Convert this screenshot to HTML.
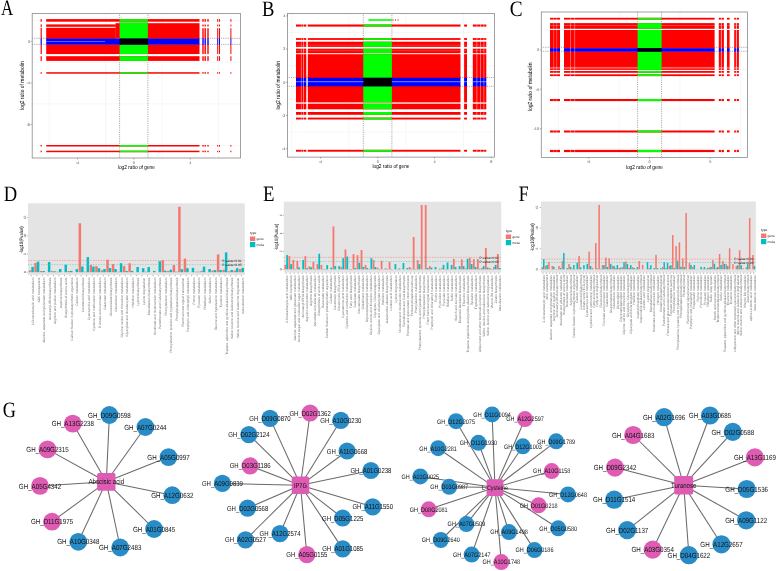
<!DOCTYPE html>
<html><head><meta charset="utf-8"><title>Figure</title>
<style>html,body{margin:0;padding:0;background:#fff;}svg{display:block;}</style></head>
<body><svg width="777" height="571" viewBox="0 0 777 571" text-rendering="geometricPrecision">
<rect x="0" y="0" width="777" height="571" fill="#fff"/>
<line x1="49.3" y1="13.5" x2="49.3" y2="158" stroke="#efefef" stroke-width="0.5"/>
<line x1="105.7" y1="13.5" x2="105.7" y2="158" stroke="#efefef" stroke-width="0.5"/>
<line x1="162.1" y1="13.5" x2="162.1" y2="158" stroke="#efefef" stroke-width="0.5"/>
<line x1="218.5" y1="13.5" x2="218.5" y2="158" stroke="#efefef" stroke-width="0.5"/>
<line x1="32.2" y1="20.6" x2="240.5" y2="20.6" stroke="#efefef" stroke-width="0.5"/>
<line x1="32.2" y1="62.2" x2="240.5" y2="62.2" stroke="#efefef" stroke-width="0.5"/>
<line x1="32.2" y1="103.8" x2="240.5" y2="103.8" stroke="#efefef" stroke-width="0.5"/>
<line x1="32.2" y1="145.4" x2="240.5" y2="145.4" stroke="#efefef" stroke-width="0.5"/>
<line x1="119.6" y1="13.5" x2="119.6" y2="158" stroke="#333" stroke-width="0.55" stroke-dasharray="0.7,1.1"/>
<line x1="147.9" y1="13.5" x2="147.9" y2="158" stroke="#333" stroke-width="0.55" stroke-dasharray="0.7,1.1"/>
<line x1="32.2" y1="38.3" x2="240.5" y2="38.3" stroke="#333" stroke-width="0.55" stroke-dasharray="0.7,1.1"/>
<line x1="32.2" y1="44.4" x2="240.5" y2="44.4" stroke="#333" stroke-width="0.55" stroke-dasharray="0.7,1.1"/>
<rect x="40.6" y="19.1" width="1.2" height="2.6" fill="#ff0000"/>
<rect x="46.2" y="19.1" width="153.3" height="2.6" fill="#ff0000"/>
<rect x="119.6" y="19.1" width="28.3" height="2.6" fill="#00ff00"/>
<rect x="202.3" y="19.1" width="1.4" height="2.6" fill="#ff0000"/>
<rect x="204.5" y="19.1" width="1.4" height="2.6" fill="#ff0000"/>
<rect x="207.3" y="19.1" width="1.4" height="2.6" fill="#ff0000"/>
<rect x="217.2" y="19.1" width="1" height="2.6" fill="#ff0000"/>
<rect x="219" y="19.1" width="1" height="2.6" fill="#ff0000"/>
<rect x="230.4" y="19.1" width="1" height="2.6" fill="#ff0000"/>
<rect x="119.6" y="22.6" width="28.3" height="16.3" fill="#ff0000"/>
<rect x="119.6" y="22.6" width="28.3" height="16.3" fill="#00ff00"/>
<rect x="40.6" y="24.4" width="1.2" height="2.4" fill="#ff0000"/>
<rect x="46.2" y="24.4" width="69.6" height="2.4" fill="#ff0000"/>
<rect x="40.6" y="27.8" width="1.2" height="11.1" fill="#ff0000"/>
<rect x="46.2" y="27.8" width="69.6" height="11.1" fill="#ff0000"/>
<rect x="115.5" y="23.2" width="4.1" height="15.4" fill="#ff0000"/>
<rect x="147.9" y="23.2" width="51.6" height="15.7" fill="#ff0000"/>
<rect x="202.3" y="24.6" width="1.4" height="1.8" fill="#ff0000"/>
<rect x="204.5" y="24.6" width="1.4" height="1.8" fill="#ff0000"/>
<rect x="207.3" y="24.6" width="1.4" height="1.8" fill="#ff0000"/>
<rect x="217.2" y="24.6" width="1" height="1.8" fill="#ff0000"/>
<rect x="219" y="24.6" width="1" height="1.8" fill="#ff0000"/>
<rect x="230.4" y="24.6" width="1" height="1.8" fill="#ff0000"/>
<rect x="202.3" y="28.2" width="1.4" height="10.7" fill="#ff0000"/>
<rect x="204.5" y="28.2" width="1.4" height="10.7" fill="#ff0000"/>
<rect x="207.3" y="28.2" width="1.4" height="10.7" fill="#ff0000"/>
<rect x="217.2" y="28.2" width="1" height="10.7" fill="#ff0000"/>
<rect x="219" y="28.2" width="1" height="10.7" fill="#ff0000"/>
<rect x="230.4" y="28.2" width="1" height="10.7" fill="#ff0000"/>
<rect x="40.6" y="44.3" width="1.2" height="9.8" fill="#ff0000"/>
<rect x="46.2" y="44.3" width="153.3" height="9.8" fill="#ff0000"/>
<rect x="119.6" y="44.3" width="28.3" height="9.8" fill="#00ff00"/>
<rect x="202.3" y="44.3" width="1.4" height="9.8" fill="#ff0000"/>
<rect x="204.5" y="44.3" width="1.4" height="9.8" fill="#ff0000"/>
<rect x="207.3" y="44.3" width="1.4" height="9.8" fill="#ff0000"/>
<rect x="217.2" y="44.3" width="1" height="9.8" fill="#ff0000"/>
<rect x="219" y="44.3" width="1" height="9.8" fill="#ff0000"/>
<rect x="230.4" y="44.3" width="1" height="9.8" fill="#ff0000"/>
<rect x="40.6" y="56.2" width="1.2" height="4.7" fill="#ff0000"/>
<rect x="46.2" y="56.2" width="153.3" height="4.7" fill="#ff0000"/>
<rect x="119.6" y="56.2" width="28.3" height="4.7" fill="#00ff00"/>
<rect x="202.3" y="56.2" width="1.4" height="4.7" fill="#ff0000"/>
<rect x="204.5" y="56.2" width="1.4" height="4.7" fill="#ff0000"/>
<rect x="207.3" y="56.2" width="1.4" height="4.7" fill="#ff0000"/>
<rect x="217.2" y="56.2" width="1" height="4.7" fill="#ff0000"/>
<rect x="219" y="56.2" width="1" height="4.7" fill="#ff0000"/>
<rect x="230.4" y="56.2" width="1" height="4.7" fill="#ff0000"/>
<rect x="40.6" y="72.2" width="1.2" height="1.5" fill="#ff0000"/>
<rect x="46.2" y="72.2" width="153.3" height="1.5" fill="#ff0000"/>
<rect x="119.6" y="72.2" width="28.3" height="1.5" fill="#00ff00"/>
<rect x="202.3" y="72.2" width="1.4" height="1.5" fill="#ff0000"/>
<rect x="204.5" y="72.2" width="1.4" height="1.5" fill="#ff0000"/>
<rect x="207.3" y="72.2" width="1.4" height="1.5" fill="#ff0000"/>
<rect x="217.2" y="72.2" width="1" height="1.5" fill="#ff0000"/>
<rect x="219" y="72.2" width="1" height="1.5" fill="#ff0000"/>
<rect x="230.4" y="72.2" width="1" height="1.5" fill="#ff0000"/>
<rect x="40.6" y="145" width="1.2" height="1.5" fill="#ff0000"/>
<rect x="46.2" y="145" width="153.3" height="1.5" fill="#ff0000"/>
<rect x="119.6" y="145" width="28.3" height="1.5" fill="#00ff00"/>
<rect x="202.3" y="145" width="1.4" height="1.5" fill="#ff0000"/>
<rect x="204.5" y="145" width="1.4" height="1.5" fill="#ff0000"/>
<rect x="207.3" y="145" width="1.4" height="1.5" fill="#ff0000"/>
<rect x="217.2" y="145" width="1" height="1.5" fill="#ff0000"/>
<rect x="219" y="145" width="1" height="1.5" fill="#ff0000"/>
<rect x="230.4" y="145" width="1" height="1.5" fill="#ff0000"/>
<rect x="40.6" y="150.7" width="1.2" height="1.5" fill="#ff0000"/>
<rect x="46.2" y="150.7" width="153.3" height="1.5" fill="#ff0000"/>
<rect x="119.6" y="150.7" width="28.3" height="1.5" fill="#00ff00"/>
<rect x="202.3" y="150.7" width="1.4" height="1.5" fill="#ff0000"/>
<rect x="204.5" y="150.7" width="1.4" height="1.5" fill="#ff0000"/>
<rect x="207.3" y="150.7" width="1.4" height="1.5" fill="#ff0000"/>
<rect x="217.2" y="150.7" width="1" height="1.5" fill="#ff0000"/>
<rect x="219" y="150.7" width="1" height="1.5" fill="#ff0000"/>
<rect x="230.4" y="150.7" width="1" height="1.5" fill="#ff0000"/>
<rect x="40.6" y="38.6" width="1.2" height="6" fill="#0000ff"/>
<rect x="46.2" y="38.6" width="153.3" height="6" fill="#0000ff"/>
<rect x="119.6" y="38.6" width="28.3" height="6" fill="#000000"/>
<rect x="202.3" y="38.6" width="1.4" height="6" fill="#0000ff"/>
<rect x="204.5" y="38.6" width="1.4" height="6" fill="#0000ff"/>
<rect x="207.3" y="38.6" width="1.4" height="6" fill="#0000ff"/>
<rect x="217.2" y="38.6" width="1" height="6" fill="#0000ff"/>
<rect x="219" y="38.6" width="1" height="6" fill="#0000ff"/>
<rect x="230.4" y="38.6" width="1" height="6" fill="#0000ff"/>
<rect x="46.2" y="41" width="58.8" height="0.9" fill="#ffffff" opacity="0.4"/>
<rect x="32.2" y="13.5" width="208.3" height="144.5" fill="none" stroke="#8a8a8a" stroke-width="0.8"/>
<line x1="30.7" y1="41.4" x2="32.2" y2="41.4" stroke="#666" stroke-width="0.5"/>
<text x="30" y="42.7" font-size="3.8" fill="#555" text-anchor="end" font-family="Liberation Sans">0</text>
<line x1="30.7" y1="83" x2="32.2" y2="83" stroke="#666" stroke-width="0.5"/>
<text x="30" y="84.3" font-size="3.8" fill="#555" text-anchor="end" font-family="Liberation Sans">-4</text>
<line x1="30.7" y1="124.6" x2="32.2" y2="124.6" stroke="#666" stroke-width="0.5"/>
<text x="30" y="125.9" font-size="3.8" fill="#555" text-anchor="end" font-family="Liberation Sans">-8</text>
<line x1="77.5" y1="158" x2="77.5" y2="159.5" stroke="#666" stroke-width="0.5"/>
<text x="77.5" y="163.6" font-size="3.8" fill="#555" text-anchor="middle" font-family="Liberation Sans">-4</text>
<line x1="133.9" y1="158" x2="133.9" y2="159.5" stroke="#666" stroke-width="0.5"/>
<text x="133.9" y="163.6" font-size="3.8" fill="#555" text-anchor="middle" font-family="Liberation Sans">0</text>
<line x1="190.3" y1="158" x2="190.3" y2="159.5" stroke="#666" stroke-width="0.5"/>
<text x="190.3" y="163.6" font-size="3.8" fill="#555" text-anchor="middle" font-family="Liberation Sans">4</text>
<text x="0" y="0" font-size="4.8" fill="#000" text-anchor="middle" font-family="Liberation Sans" transform="translate(136.35,169.2) scale(1,1.18)">log2 ratio of gene</text>
<text x="0" y="0" font-size="4.95" fill="#000" text-anchor="middle" font-family="Liberation Sans" transform="translate(24.2,85.6) rotate(-90) scale(1,1.2)">log2 ratio of metabolin</text>
<line x1="291.6" y1="13.5" x2="291.6" y2="157.1" stroke="#efefef" stroke-width="0.5"/>
<line x1="348.9" y1="13.5" x2="348.9" y2="157.1" stroke="#efefef" stroke-width="0.5"/>
<line x1="406.2" y1="13.5" x2="406.2" y2="157.1" stroke="#efefef" stroke-width="0.5"/>
<line x1="463.5" y1="13.5" x2="463.5" y2="157.1" stroke="#efefef" stroke-width="0.5"/>
<line x1="287.5" y1="32.5" x2="494.4" y2="32.5" stroke="#efefef" stroke-width="0.5"/>
<line x1="287.5" y1="65.7" x2="494.4" y2="65.7" stroke="#efefef" stroke-width="0.5"/>
<line x1="287.5" y1="98.9" x2="494.4" y2="98.9" stroke="#efefef" stroke-width="0.5"/>
<line x1="287.5" y1="132.1" x2="494.4" y2="132.1" stroke="#efefef" stroke-width="0.5"/>
<line x1="363.3" y1="13.5" x2="363.3" y2="157.1" stroke="#333" stroke-width="0.55" stroke-dasharray="0.7,1.1"/>
<line x1="391.9" y1="13.5" x2="391.9" y2="157.1" stroke="#333" stroke-width="0.55" stroke-dasharray="0.7,1.1"/>
<line x1="287.5" y1="77.5" x2="494.4" y2="77.5" stroke="#333" stroke-width="0.55" stroke-dasharray="0.7,1.1"/>
<line x1="287.5" y1="86.3" x2="494.4" y2="86.3" stroke="#333" stroke-width="0.55" stroke-dasharray="0.7,1.1"/>
<rect x="296" y="24.5" width="10.3" height="2.1" fill="#ff0000"/>
<rect x="307.8" y="24.5" width="152.7" height="2.1" fill="#ff0000"/>
<rect x="363.3" y="24.5" width="28.6" height="2.1" fill="#00ff00"/>
<rect x="464.1" y="24.5" width="2.9" height="2.1" fill="#ff0000"/>
<rect x="472.8" y="24.5" width="13.5" height="2.1" fill="#ff0000"/>
<rect x="296" y="38.1" width="10.3" height="1.8" fill="#ff0000"/>
<rect x="307.8" y="38.1" width="152.7" height="1.8" fill="#ff0000"/>
<rect x="363.3" y="38.1" width="28.6" height="1.8" fill="#00ff00"/>
<rect x="464.1" y="38.1" width="2.9" height="1.8" fill="#ff0000"/>
<rect x="472.8" y="38.1" width="13.5" height="1.8" fill="#ff0000"/>
<rect x="296" y="41.7" width="10.3" height="5.2" fill="#ff0000"/>
<rect x="307.8" y="41.7" width="152.7" height="5.2" fill="#ff0000"/>
<rect x="363.3" y="41.7" width="28.6" height="5.2" fill="#00ff00"/>
<rect x="464.1" y="41.7" width="2.9" height="5.2" fill="#ff0000"/>
<rect x="472.8" y="41.7" width="13.5" height="5.2" fill="#ff0000"/>
<rect x="296" y="48.7" width="10.3" height="4.5" fill="#ff0000"/>
<rect x="307.8" y="48.7" width="152.7" height="4.5" fill="#ff0000"/>
<rect x="363.3" y="48.7" width="28.6" height="4.5" fill="#00ff00"/>
<rect x="464.1" y="48.7" width="2.9" height="4.5" fill="#ff0000"/>
<rect x="472.8" y="48.7" width="13.5" height="4.5" fill="#ff0000"/>
<rect x="296" y="54.2" width="10.3" height="23.9" fill="#ff0000"/>
<rect x="307.8" y="54.2" width="152.7" height="23.9" fill="#ff0000"/>
<rect x="363.3" y="54.2" width="28.6" height="23.9" fill="#00ff00"/>
<rect x="464.1" y="54.2" width="2.9" height="23.9" fill="#ff0000"/>
<rect x="472.8" y="54.2" width="13.5" height="23.9" fill="#ff0000"/>
<rect x="296" y="86" width="10.3" height="16.4" fill="#ff0000"/>
<rect x="307.8" y="86" width="152.7" height="16.4" fill="#ff0000"/>
<rect x="363.3" y="86" width="28.6" height="16.4" fill="#00ff00"/>
<rect x="464.1" y="86" width="2.9" height="16.4" fill="#ff0000"/>
<rect x="472.8" y="86" width="13.5" height="16.4" fill="#ff0000"/>
<rect x="296" y="103.7" width="10.3" height="5.6" fill="#ff0000"/>
<rect x="307.8" y="103.7" width="152.7" height="5.6" fill="#ff0000"/>
<rect x="363.3" y="103.7" width="28.6" height="5.6" fill="#00ff00"/>
<rect x="464.1" y="103.7" width="2.9" height="5.6" fill="#ff0000"/>
<rect x="472.8" y="103.7" width="13.5" height="5.6" fill="#ff0000"/>
<rect x="296" y="112" width="10.3" height="2.8" fill="#ff0000"/>
<rect x="307.8" y="112" width="152.7" height="2.8" fill="#ff0000"/>
<rect x="363.3" y="112" width="28.6" height="2.8" fill="#00ff00"/>
<rect x="464.1" y="112" width="2.9" height="2.8" fill="#ff0000"/>
<rect x="472.8" y="112" width="13.5" height="2.8" fill="#ff0000"/>
<rect x="296" y="117.6" width="10.3" height="1.9" fill="#ff0000"/>
<rect x="307.8" y="117.6" width="152.7" height="1.9" fill="#ff0000"/>
<rect x="363.3" y="117.6" width="28.6" height="1.9" fill="#00ff00"/>
<rect x="464.1" y="117.6" width="2.9" height="1.9" fill="#ff0000"/>
<rect x="472.8" y="117.6" width="13.5" height="1.9" fill="#ff0000"/>
<rect x="296" y="149.8" width="10.3" height="1.9" fill="#ff0000"/>
<rect x="307.8" y="149.8" width="152.7" height="1.9" fill="#ff0000"/>
<rect x="363.3" y="149.8" width="28.6" height="1.9" fill="#00ff00"/>
<rect x="464.1" y="149.8" width="2.9" height="1.9" fill="#ff0000"/>
<rect x="472.8" y="149.8" width="13.5" height="1.9" fill="#ff0000"/>
<rect x="296" y="77.8" width="10.3" height="8.5" fill="#0000ff"/>
<rect x="307.8" y="77.8" width="152.7" height="8.5" fill="#0000ff"/>
<rect x="363.3" y="77.8" width="28.6" height="8.5" fill="#000000"/>
<rect x="464.1" y="77.8" width="2.9" height="8.5" fill="#0000ff"/>
<rect x="472.8" y="77.8" width="13.5" height="8.5" fill="#0000ff"/>
<rect x="296" y="81.2" width="10.3" height="1" fill="#ffffff" opacity="0.5"/>
<rect x="307.8" y="81.2" width="55.5" height="1" fill="#ffffff" opacity="0.5"/>
<rect x="391.9" y="81.2" width="68.6" height="1" fill="#ffffff" opacity="0.5"/>
<rect x="464.1" y="81.2" width="2.9" height="1" fill="#ffffff" opacity="0.5"/>
<rect x="472.8" y="81.2" width="13.5" height="1" fill="#ffffff" opacity="0.5"/>
<rect x="296" y="44.8" width="10.3" height="0.6" fill="#ffffff" opacity="0.3"/>
<rect x="307.8" y="44.8" width="55.5" height="0.6" fill="#ffffff" opacity="0.3"/>
<rect x="391.9" y="44.8" width="68.6" height="0.6" fill="#ffffff" opacity="0.3"/>
<rect x="464.1" y="44.8" width="2.9" height="0.6" fill="#ffffff" opacity="0.3"/>
<rect x="472.8" y="44.8" width="13.5" height="0.6" fill="#ffffff" opacity="0.3"/>
<rect x="296" y="50.5" width="10.3" height="0.6" fill="#ffffff" opacity="0.3"/>
<rect x="307.8" y="50.5" width="55.5" height="0.6" fill="#ffffff" opacity="0.3"/>
<rect x="391.9" y="50.5" width="68.6" height="0.6" fill="#ffffff" opacity="0.3"/>
<rect x="464.1" y="50.5" width="2.9" height="0.6" fill="#ffffff" opacity="0.3"/>
<rect x="472.8" y="50.5" width="13.5" height="0.6" fill="#ffffff" opacity="0.3"/>
<rect x="296" y="53.2" width="10.3" height="1" fill="#ffffff" opacity="0.0"/>
<rect x="307.8" y="53.2" width="55.5" height="1" fill="#ffffff" opacity="0.0"/>
<rect x="391.9" y="53.2" width="68.6" height="1" fill="#ffffff" opacity="0.0"/>
<rect x="464.1" y="53.2" width="2.9" height="1" fill="#ffffff" opacity="0.0"/>
<rect x="472.8" y="53.2" width="13.5" height="1" fill="#ffffff" opacity="0.0"/>
<rect x="368.5" y="19.2" width="23.4" height="1.6" fill="#00ff00"/>
<rect x="392.5" y="19.4" width="1" height="1.2" fill="#ff0000"/>
<rect x="395" y="19.4" width="1" height="1.2" fill="#ff0000"/>
<rect x="397.5" y="19.4" width="1" height="1.2" fill="#ff0000"/>
<rect x="300.9" y="13.5" width="0.6" height="143.6" fill="#fff" opacity="0.6"/>
<rect x="303.1" y="13.5" width="0.8" height="143.6" fill="#fff" opacity="0.6"/>
<rect x="476.6" y="13.5" width="0.6" height="143.6" fill="#fff" opacity="0.7"/>
<rect x="480.4" y="13.5" width="0.6" height="143.6" fill="#fff" opacity="0.7"/>
<rect x="483.6" y="13.5" width="0.6" height="143.6" fill="#fff" opacity="0.6"/>
<rect x="287.5" y="13.5" width="206.9" height="143.6" fill="none" stroke="#8a8a8a" stroke-width="0.8"/>
<line x1="286" y1="15.9" x2="287.5" y2="15.9" stroke="#666" stroke-width="0.5"/>
<text x="285.3" y="17.2" font-size="3.8" fill="#555" text-anchor="end" font-family="Liberation Sans">4</text>
<line x1="286" y1="49.1" x2="287.5" y2="49.1" stroke="#666" stroke-width="0.5"/>
<text x="285.3" y="50.4" font-size="3.8" fill="#555" text-anchor="end" font-family="Liberation Sans">2</text>
<line x1="286" y1="82.3" x2="287.5" y2="82.3" stroke="#666" stroke-width="0.5"/>
<text x="285.3" y="83.6" font-size="3.8" fill="#555" text-anchor="end" font-family="Liberation Sans">0</text>
<line x1="286" y1="115.5" x2="287.5" y2="115.5" stroke="#666" stroke-width="0.5"/>
<text x="285.3" y="116.8" font-size="3.8" fill="#555" text-anchor="end" font-family="Liberation Sans">-2</text>
<line x1="286" y1="148.7" x2="287.5" y2="148.7" stroke="#666" stroke-width="0.5"/>
<text x="285.3" y="150" font-size="3.8" fill="#555" text-anchor="end" font-family="Liberation Sans">-4</text>
<line x1="320.5" y1="157.1" x2="320.5" y2="158.6" stroke="#666" stroke-width="0.5"/>
<text x="320.5" y="162.7" font-size="3.8" fill="#555" text-anchor="middle" font-family="Liberation Sans">-4</text>
<line x1="377.7" y1="157.1" x2="377.7" y2="158.6" stroke="#666" stroke-width="0.5"/>
<text x="377.7" y="162.7" font-size="3.8" fill="#555" text-anchor="middle" font-family="Liberation Sans">0</text>
<line x1="434.5" y1="157.1" x2="434.5" y2="158.6" stroke="#666" stroke-width="0.5"/>
<text x="434.5" y="162.7" font-size="3.8" fill="#555" text-anchor="middle" font-family="Liberation Sans">4</text>
<line x1="491.3" y1="157.1" x2="491.3" y2="158.6" stroke="#666" stroke-width="0.5"/>
<text x="491.3" y="162.7" font-size="3.8" fill="#555" text-anchor="middle" font-family="Liberation Sans">8</text>
<text x="0" y="0" font-size="4.8" fill="#000" text-anchor="middle" font-family="Liberation Sans" transform="translate(390.95,168.3) scale(1,1.18)">log2 ratio of gene</text>
<text x="0" y="0" font-size="4.95" fill="#000" text-anchor="middle" font-family="Liberation Sans" transform="translate(279.6,85.3) rotate(-90) scale(1,1.2)">log2 ratio of metabolin</text>
<line x1="558.5" y1="12" x2="558.5" y2="157.4" stroke="#efefef" stroke-width="0.5"/>
<line x1="619.2" y1="12" x2="619.2" y2="157.4" stroke="#efefef" stroke-width="0.5"/>
<line x1="679.9" y1="12" x2="679.9" y2="157.4" stroke="#efefef" stroke-width="0.5"/>
<line x1="740.5" y1="12" x2="740.5" y2="157.4" stroke="#efefef" stroke-width="0.5"/>
<line x1="541.3" y1="30.1" x2="747.4" y2="30.1" stroke="#efefef" stroke-width="0.5"/>
<line x1="541.3" y1="69.6" x2="747.4" y2="69.6" stroke="#efefef" stroke-width="0.5"/>
<line x1="541.3" y1="109.1" x2="747.4" y2="109.1" stroke="#efefef" stroke-width="0.5"/>
<line x1="541.3" y1="148.6" x2="747.4" y2="148.6" stroke="#efefef" stroke-width="0.5"/>
<line x1="637.6" y1="12" x2="637.6" y2="157.4" stroke="#333" stroke-width="0.55" stroke-dasharray="0.7,1.1"/>
<line x1="661.6" y1="12" x2="661.6" y2="157.4" stroke="#333" stroke-width="0.55" stroke-dasharray="0.7,1.1"/>
<line x1="541.3" y1="47.3" x2="747.4" y2="47.3" stroke="#333" stroke-width="0.55" stroke-dasharray="0.7,1.1"/>
<line x1="541.3" y1="51.3" x2="747.4" y2="51.3" stroke="#333" stroke-width="0.55" stroke-dasharray="0.7,1.1"/>
<rect x="550" y="17.8" width="10" height="1.8" fill="#ff0000"/>
<rect x="564" y="17.8" width="150.6" height="1.8" fill="#ff0000"/>
<rect x="637.6" y="17.8" width="24" height="1.8" fill="#00ff00"/>
<rect x="718.8" y="17.8" width="5.1" height="1.8" fill="#ff0000"/>
<rect x="727" y="17.8" width="2.6" height="1.8" fill="#ff0000"/>
<rect x="734.2" y="17.8" width="4.7" height="1.8" fill="#ff0000"/>
<rect x="550" y="23.1" width="10" height="5.7" fill="#ff0000"/>
<rect x="564" y="23.1" width="150.6" height="5.7" fill="#ff0000"/>
<rect x="637.6" y="23.1" width="24" height="5.7" fill="#00ff00"/>
<rect x="718.8" y="23.1" width="5.1" height="5.7" fill="#ff0000"/>
<rect x="727" y="23.1" width="2.6" height="5.7" fill="#ff0000"/>
<rect x="734.2" y="23.1" width="4.7" height="5.7" fill="#ff0000"/>
<rect x="550" y="30" width="10" height="18.5" fill="#ff0000"/>
<rect x="564" y="30" width="150.6" height="18.5" fill="#ff0000"/>
<rect x="637.6" y="30" width="24" height="18.5" fill="#00ff00"/>
<rect x="718.8" y="30" width="5.1" height="18.5" fill="#ff0000"/>
<rect x="727" y="30" width="2.6" height="18.5" fill="#ff0000"/>
<rect x="734.2" y="30" width="4.7" height="18.5" fill="#ff0000"/>
<rect x="550" y="51.3" width="10" height="18.6" fill="#ff0000"/>
<rect x="564" y="51.3" width="150.6" height="18.6" fill="#ff0000"/>
<rect x="637.6" y="51.3" width="24" height="18.6" fill="#00ff00"/>
<rect x="718.8" y="51.3" width="5.1" height="18.6" fill="#ff0000"/>
<rect x="727" y="51.3" width="2.6" height="18.6" fill="#ff0000"/>
<rect x="734.2" y="51.3" width="4.7" height="18.6" fill="#ff0000"/>
<rect x="550" y="71" width="10" height="1.8" fill="#ff0000"/>
<rect x="564" y="71" width="150.6" height="1.8" fill="#ff0000"/>
<rect x="637.6" y="71" width="24" height="1.8" fill="#00ff00"/>
<rect x="718.8" y="71" width="5.1" height="1.8" fill="#ff0000"/>
<rect x="727" y="71" width="2.6" height="1.8" fill="#ff0000"/>
<rect x="734.2" y="71" width="4.7" height="1.8" fill="#ff0000"/>
<rect x="550" y="74.3" width="10" height="1.8" fill="#ff0000"/>
<rect x="564" y="74.3" width="150.6" height="1.8" fill="#ff0000"/>
<rect x="637.6" y="74.3" width="24" height="1.8" fill="#00ff00"/>
<rect x="718.8" y="74.3" width="5.1" height="1.8" fill="#ff0000"/>
<rect x="727" y="74.3" width="2.6" height="1.8" fill="#ff0000"/>
<rect x="734.2" y="74.3" width="4.7" height="1.8" fill="#ff0000"/>
<rect x="550" y="99" width="10" height="2.1" fill="#ff0000"/>
<rect x="564" y="99" width="150.6" height="2.1" fill="#ff0000"/>
<rect x="637.6" y="99" width="24" height="2.1" fill="#00ff00"/>
<rect x="718.8" y="99" width="5.1" height="2.1" fill="#ff0000"/>
<rect x="727" y="99" width="2.6" height="2.1" fill="#ff0000"/>
<rect x="734.2" y="99" width="4.7" height="2.1" fill="#ff0000"/>
<rect x="550" y="130.5" width="10" height="2" fill="#ff0000"/>
<rect x="564" y="130.5" width="150.6" height="2" fill="#ff0000"/>
<rect x="637.6" y="130.5" width="24" height="2" fill="#00ff00"/>
<rect x="718.8" y="130.5" width="5.1" height="2" fill="#ff0000"/>
<rect x="727" y="130.5" width="2.6" height="2" fill="#ff0000"/>
<rect x="734.2" y="130.5" width="4.7" height="2" fill="#ff0000"/>
<rect x="550" y="149.9" width="10" height="2.2" fill="#ff0000"/>
<rect x="564" y="149.9" width="150.6" height="2.2" fill="#ff0000"/>
<rect x="637.6" y="149.9" width="24" height="2.2" fill="#00ff00"/>
<rect x="718.8" y="149.9" width="5.1" height="2.2" fill="#ff0000"/>
<rect x="727" y="149.9" width="2.6" height="2.2" fill="#ff0000"/>
<rect x="734.2" y="149.9" width="4.7" height="2.2" fill="#ff0000"/>
<rect x="550" y="48.2" width="10" height="3.4" fill="#0000ff"/>
<rect x="564" y="48.2" width="150.6" height="3.4" fill="#0000ff"/>
<rect x="637.6" y="48.2" width="24" height="3.4" fill="#000000"/>
<rect x="718.8" y="48.2" width="5.1" height="3.4" fill="#0000ff"/>
<rect x="727" y="48.2" width="2.6" height="3.4" fill="#0000ff"/>
<rect x="734.2" y="48.2" width="4.7" height="3.4" fill="#0000ff"/>
<rect x="550" y="66.9" width="10" height="1.9" fill="#ffffff" opacity="0.35"/>
<rect x="564" y="66.9" width="73.6" height="1.9" fill="#ffffff" opacity="0.35"/>
<rect x="661.6" y="66.9" width="53" height="1.9" fill="#ffffff" opacity="0.35"/>
<rect x="718.8" y="66.9" width="5.1" height="1.9" fill="#ffffff" opacity="0.35"/>
<rect x="727" y="66.9" width="2.6" height="1.9" fill="#ffffff" opacity="0.35"/>
<rect x="734.2" y="66.9" width="4.7" height="1.9" fill="#ffffff" opacity="0.35"/>
<rect x="550" y="25.1" width="10" height="0.8" fill="#ffffff" opacity="0.3"/>
<rect x="564" y="25.1" width="73.6" height="0.8" fill="#ffffff" opacity="0.3"/>
<rect x="661.6" y="25.1" width="53" height="0.8" fill="#ffffff" opacity="0.3"/>
<rect x="718.8" y="25.1" width="5.1" height="0.8" fill="#ffffff" opacity="0.3"/>
<rect x="727" y="25.1" width="2.6" height="0.8" fill="#ffffff" opacity="0.3"/>
<rect x="734.2" y="25.1" width="4.7" height="0.8" fill="#ffffff" opacity="0.3"/>
<rect x="570.3" y="12" width="0.6" height="145.4" fill="#fff" opacity="0.6"/>
<rect x="574.5" y="12" width="0.6" height="145.4" fill="#fff" opacity="0.6"/>
<rect x="553.5" y="12" width="0.6" height="145.4" fill="#fff" opacity="0.5"/>
<rect x="556.5" y="12" width="0.6" height="145.4" fill="#fff" opacity="0.5"/>
<rect x="720.9" y="12" width="0.7" height="145.4" fill="#fff" opacity="0.85"/>
<rect x="735.9" y="12" width="0.9" height="145.4" fill="#fff" opacity="0.85"/>
<rect x="541.3" y="12" width="206.1" height="145.4" fill="none" stroke="#8a8a8a" stroke-width="0.8"/>
<line x1="539.8" y1="49.8" x2="541.3" y2="49.8" stroke="#666" stroke-width="0.5"/>
<text x="539.1" y="51.1" font-size="3.8" fill="#555" text-anchor="end" font-family="Liberation Sans">0</text>
<line x1="539.8" y1="89.3" x2="541.3" y2="89.3" stroke="#666" stroke-width="0.5"/>
<text x="539.1" y="90.6" font-size="3.8" fill="#555" text-anchor="end" font-family="Liberation Sans">-5</text>
<line x1="539.8" y1="128.8" x2="541.3" y2="128.8" stroke="#666" stroke-width="0.5"/>
<text x="539.1" y="130.1" font-size="3.8" fill="#555" text-anchor="end" font-family="Liberation Sans">-10</text>
<line x1="588.8" y1="157.4" x2="588.8" y2="158.9" stroke="#666" stroke-width="0.5"/>
<text x="588.8" y="163" font-size="3.8" fill="#555" text-anchor="middle" font-family="Liberation Sans">-5</text>
<line x1="649.5" y1="157.4" x2="649.5" y2="158.9" stroke="#666" stroke-width="0.5"/>
<text x="649.5" y="163" font-size="3.8" fill="#555" text-anchor="middle" font-family="Liberation Sans">0</text>
<line x1="710.2" y1="157.4" x2="710.2" y2="158.9" stroke="#666" stroke-width="0.5"/>
<text x="710.2" y="163" font-size="3.8" fill="#555" text-anchor="middle" font-family="Liberation Sans">5</text>
<text x="0" y="0" font-size="4.8" fill="#000" text-anchor="middle" font-family="Liberation Sans" transform="translate(644.35,168.6) scale(1,1.18)">log2 ratio of gene</text>
<text x="0" y="0" font-size="4.95" fill="#000" text-anchor="middle" font-family="Liberation Sans" transform="translate(532,86.9) rotate(-90) scale(1,1.2)">log2 ratio of metabolin</text>
<rect x="28" y="203.3" width="216.8" height="71.7" fill="#e4e4e4"/>
<rect x="28.83" y="270.5" width="2.49" height="1.7" fill="#f8766d"/>
<rect x="31.32" y="266.9" width="2.49" height="5.3" fill="#00bfc4"/>
<rect x="34.36" y="262.9" width="2.49" height="9.3" fill="#f8766d"/>
<rect x="36.85" y="261.6" width="2.49" height="10.6" fill="#00bfc4"/>
<rect x="39.89" y="271" width="2.49" height="1.2" fill="#f8766d"/>
<rect x="42.38" y="271" width="2.49" height="1.2" fill="#00bfc4"/>
<rect x="47.91" y="262" width="2.49" height="10.2" fill="#00bfc4"/>
<rect x="50.95" y="271" width="2.49" height="1.2" fill="#f8766d"/>
<rect x="53.44" y="271.3" width="2.49" height="0.9" fill="#00bfc4"/>
<rect x="56.48" y="271.7" width="2.49" height="0.5" fill="#f8766d"/>
<rect x="58.97" y="269" width="2.49" height="3.2" fill="#00bfc4"/>
<rect x="64.5" y="264.7" width="2.49" height="7.5" fill="#00bfc4"/>
<rect x="67.54" y="271" width="2.49" height="1.2" fill="#f8766d"/>
<rect x="70.03" y="270.9" width="2.49" height="1.3" fill="#00bfc4"/>
<rect x="75.56" y="269.1" width="2.49" height="3.1" fill="#00bfc4"/>
<rect x="78.61" y="223.3" width="2.49" height="48.9" fill="#f8766d"/>
<rect x="81.09" y="266.5" width="2.49" height="5.7" fill="#00bfc4"/>
<rect x="84.14" y="271.7" width="2.49" height="0.5" fill="#f8766d"/>
<rect x="86.62" y="257.1" width="2.49" height="15.1" fill="#00bfc4"/>
<rect x="89.67" y="264.9" width="2.49" height="7.3" fill="#f8766d"/>
<rect x="92.16" y="266.6" width="2.49" height="5.6" fill="#00bfc4"/>
<rect x="95.2" y="266.1" width="2.49" height="6.1" fill="#f8766d"/>
<rect x="97.69" y="268.2" width="2.49" height="4" fill="#00bfc4"/>
<rect x="100.73" y="270.3" width="2.49" height="1.9" fill="#f8766d"/>
<rect x="103.22" y="269" width="2.49" height="3.2" fill="#00bfc4"/>
<rect x="106.26" y="259.7" width="2.49" height="12.5" fill="#f8766d"/>
<rect x="108.75" y="268" width="2.49" height="4.2" fill="#00bfc4"/>
<rect x="111.79" y="264.1" width="2.49" height="8.1" fill="#f8766d"/>
<rect x="114.28" y="269" width="2.49" height="3.2" fill="#00bfc4"/>
<rect x="117.32" y="271.7" width="2.49" height="0.5" fill="#f8766d"/>
<rect x="119.81" y="263.2" width="2.49" height="9" fill="#00bfc4"/>
<rect x="122.85" y="266.1" width="2.49" height="6.1" fill="#f8766d"/>
<rect x="125.34" y="271" width="2.49" height="1.2" fill="#00bfc4"/>
<rect x="128.38" y="263.3" width="2.49" height="8.9" fill="#f8766d"/>
<rect x="130.87" y="270.9" width="2.49" height="1.3" fill="#00bfc4"/>
<rect x="136.4" y="267" width="2.49" height="5.2" fill="#00bfc4"/>
<rect x="141.93" y="268.2" width="2.49" height="4" fill="#00bfc4"/>
<rect x="144.97" y="271.7" width="2.49" height="0.5" fill="#f8766d"/>
<rect x="147.46" y="267" width="2.49" height="5.2" fill="#00bfc4"/>
<rect x="152.99" y="270.9" width="2.49" height="1.3" fill="#00bfc4"/>
<rect x="158.52" y="261.2" width="2.49" height="11" fill="#00bfc4"/>
<rect x="161.56" y="260.2" width="2.49" height="12" fill="#f8766d"/>
<rect x="164.05" y="270.7" width="2.49" height="1.5" fill="#00bfc4"/>
<rect x="167.09" y="271" width="2.49" height="1.2" fill="#f8766d"/>
<rect x="169.58" y="269.7" width="2.49" height="2.5" fill="#00bfc4"/>
<rect x="172.63" y="265.1" width="2.49" height="7.1" fill="#f8766d"/>
<rect x="175.11" y="271.7" width="2.49" height="0.5" fill="#00bfc4"/>
<rect x="178.16" y="206.8" width="2.49" height="65.4" fill="#f8766d"/>
<rect x="180.64" y="269.2" width="2.49" height="3" fill="#00bfc4"/>
<rect x="183.69" y="258.6" width="2.49" height="13.6" fill="#f8766d"/>
<rect x="186.18" y="268.2" width="2.49" height="4" fill="#00bfc4"/>
<rect x="191.71" y="267.8" width="2.49" height="4.4" fill="#00bfc4"/>
<rect x="194.75" y="271.7" width="2.49" height="0.5" fill="#f8766d"/>
<rect x="197.24" y="271.7" width="2.49" height="0.5" fill="#00bfc4"/>
<rect x="200.28" y="270.9" width="2.49" height="1.3" fill="#f8766d"/>
<rect x="202.77" y="266.6" width="2.49" height="5.6" fill="#00bfc4"/>
<rect x="208.3" y="269" width="2.49" height="3.2" fill="#00bfc4"/>
<rect x="211.34" y="270.5" width="2.49" height="1.7" fill="#f8766d"/>
<rect x="213.83" y="270.1" width="2.49" height="2.1" fill="#00bfc4"/>
<rect x="216.87" y="254.4" width="2.49" height="17.8" fill="#f8766d"/>
<rect x="219.36" y="270" width="2.49" height="2.2" fill="#00bfc4"/>
<rect x="222.4" y="269.7" width="2.49" height="2.5" fill="#f8766d"/>
<rect x="224.89" y="252.4" width="2.49" height="19.8" fill="#00bfc4"/>
<rect x="227.93" y="271.3" width="2.49" height="0.9" fill="#f8766d"/>
<rect x="230.42" y="270" width="2.49" height="2.2" fill="#00bfc4"/>
<rect x="233.46" y="270.5" width="2.49" height="1.7" fill="#f8766d"/>
<rect x="235.95" y="268.2" width="2.49" height="4" fill="#00bfc4"/>
<rect x="238.99" y="269" width="2.49" height="3.2" fill="#f8766d"/>
<rect x="241.48" y="267.8" width="2.49" height="4.4" fill="#00bfc4"/>
<line x1="28" y1="260.5" x2="244.8" y2="260.5" stroke="#f47a72" stroke-width="0.6" stroke-dasharray="1.3,1.3"/>
<line x1="28" y1="264.6" x2="244.8" y2="264.6" stroke="#4fc9cf" stroke-width="0.6" stroke-dasharray="1.3,1.3"/>
<text x="241.6" y="261.6" font-size="3.25" fill="#222" text-anchor="end" font-family="Liberation Sans">P-value=0.01</text>
<text x="241.6" y="265.7" font-size="3.25" fill="#222" text-anchor="end" font-family="Liberation Sans">P-value=0.05</text>
<line x1="26.8" y1="272.2" x2="28" y2="272.2" stroke="#444" stroke-width="0.4"/>
<text x="0" y="0" font-size="3.2" fill="#555" text-anchor="middle" font-family="Liberation Sans" transform="translate(26.1,272.2) rotate(-90)">0</text>
<line x1="26.8" y1="254" x2="28" y2="254" stroke="#444" stroke-width="0.4"/>
<text x="0" y="0" font-size="3.2" fill="#555" text-anchor="middle" font-family="Liberation Sans" transform="translate(26.1,254) rotate(-90)">5</text>
<line x1="26.8" y1="235.8" x2="28" y2="235.8" stroke="#444" stroke-width="0.4"/>
<text x="0" y="0" font-size="3.2" fill="#555" text-anchor="middle" font-family="Liberation Sans" transform="translate(26.1,235.8) rotate(-90)">10</text>
<line x1="26.8" y1="217.6" x2="28" y2="217.6" stroke="#444" stroke-width="0.4"/>
<text x="0" y="0" font-size="3.2" fill="#555" text-anchor="middle" font-family="Liberation Sans" transform="translate(26.1,217.6) rotate(-90)">15</text>
<line x1="31.32" y1="275" x2="31.32" y2="276.3" stroke="#444" stroke-width="0.4"/>
<text x="0" y="0" font-size="3.25" fill="#666" text-anchor="end" font-family="Liberation Sans" transform="translate(34.22,277.6) rotate(-90)">2-Oxocarboxylic acid metabolism</text>
<line x1="36.85" y1="275" x2="36.85" y2="276.3" stroke="#444" stroke-width="0.4"/>
<text x="0" y="0" font-size="3.25" fill="#666" text-anchor="end" font-family="Liberation Sans" transform="translate(39.75,277.6) rotate(-90)">ABC transporters</text>
<line x1="42.38" y1="275" x2="42.38" y2="276.3" stroke="#444" stroke-width="0.4"/>
<text x="0" y="0" font-size="3.25" fill="#666" text-anchor="end" font-family="Liberation Sans" transform="translate(45.28,277.6) rotate(-90)">Alanine, aspartate and glutamate metabolism</text>
<line x1="47.91" y1="275" x2="47.91" y2="276.3" stroke="#444" stroke-width="0.4"/>
<text x="0" y="0" font-size="3.25" fill="#666" text-anchor="end" font-family="Liberation Sans" transform="translate(50.81,277.6) rotate(-90)">Aminoacyl-tRNA biosynthesis</text>
<line x1="53.44" y1="275" x2="53.44" y2="276.3" stroke="#444" stroke-width="0.4"/>
<text x="0" y="0" font-size="3.25" fill="#666" text-anchor="end" font-family="Liberation Sans" transform="translate(56.34,277.6) rotate(-90)">Arginine and proline metabolism</text>
<line x1="58.97" y1="275" x2="58.97" y2="276.3" stroke="#444" stroke-width="0.4"/>
<text x="0" y="0" font-size="3.25" fill="#666" text-anchor="end" font-family="Liberation Sans" transform="translate(61.87,277.6) rotate(-90)">Arginine biosynthesis</text>
<line x1="64.5" y1="275" x2="64.5" y2="276.3" stroke="#444" stroke-width="0.4"/>
<text x="0" y="0" font-size="3.25" fill="#666" text-anchor="end" font-family="Liberation Sans" transform="translate(67.4,277.6) rotate(-90)">Biosynthesis of amino acids</text>
<line x1="70.03" y1="275" x2="70.03" y2="276.3" stroke="#444" stroke-width="0.4"/>
<text x="0" y="0" font-size="3.25" fill="#666" text-anchor="end" font-family="Liberation Sans" transform="translate(72.93,277.6) rotate(-90)">Carbon fixation in photosynthetic organisms</text>
<line x1="75.56" y1="275" x2="75.56" y2="276.3" stroke="#444" stroke-width="0.4"/>
<text x="0" y="0" font-size="3.25" fill="#666" text-anchor="end" font-family="Liberation Sans" transform="translate(78.46,277.6) rotate(-90)">Carbon metabolism</text>
<line x1="81.09" y1="275" x2="81.09" y2="276.3" stroke="#444" stroke-width="0.4"/>
<text x="0" y="0" font-size="3.25" fill="#666" text-anchor="end" font-family="Liberation Sans" transform="translate(83.99,277.6) rotate(-90)">Carotenoid biosynthesis</text>
<line x1="86.62" y1="275" x2="86.62" y2="276.3" stroke="#444" stroke-width="0.4"/>
<text x="0" y="0" font-size="3.25" fill="#666" text-anchor="end" font-family="Liberation Sans" transform="translate(89.52,277.6) rotate(-90)">Cyanoamino acid metabolism</text>
<line x1="92.16" y1="275" x2="92.16" y2="276.3" stroke="#444" stroke-width="0.4"/>
<text x="0" y="0" font-size="3.25" fill="#666" text-anchor="end" font-family="Liberation Sans" transform="translate(95.06,277.6) rotate(-90)">Cysteine and methionine metabolism</text>
<line x1="97.69" y1="275" x2="97.69" y2="276.3" stroke="#444" stroke-width="0.4"/>
<text x="0" y="0" font-size="3.25" fill="#666" text-anchor="end" font-family="Liberation Sans" transform="translate(100.59,277.6) rotate(-90)">Fructose and mannose metabolism</text>
<line x1="103.22" y1="275" x2="103.22" y2="276.3" stroke="#444" stroke-width="0.4"/>
<text x="0" y="0" font-size="3.25" fill="#666" text-anchor="end" font-family="Liberation Sans" transform="translate(106.12,277.6) rotate(-90)">Galactose metabolism</text>
<line x1="108.75" y1="275" x2="108.75" y2="276.3" stroke="#444" stroke-width="0.4"/>
<text x="0" y="0" font-size="3.25" fill="#666" text-anchor="end" font-family="Liberation Sans" transform="translate(111.65,277.6) rotate(-90)">Glucosinolate biosynthesis</text>
<line x1="114.28" y1="275" x2="114.28" y2="276.3" stroke="#444" stroke-width="0.4"/>
<text x="0" y="0" font-size="3.25" fill="#666" text-anchor="end" font-family="Liberation Sans" transform="translate(117.18,277.6) rotate(-90)">Glutathione metabolism</text>
<line x1="119.81" y1="275" x2="119.81" y2="276.3" stroke="#444" stroke-width="0.4"/>
<text x="0" y="0" font-size="3.25" fill="#666" text-anchor="end" font-family="Liberation Sans" transform="translate(122.71,277.6) rotate(-90)">Glycine, serine and threonine metabolism</text>
<line x1="125.34" y1="275" x2="125.34" y2="276.3" stroke="#444" stroke-width="0.4"/>
<text x="0" y="0" font-size="3.25" fill="#666" text-anchor="end" font-family="Liberation Sans" transform="translate(128.24,277.6) rotate(-90)">Glyoxylate and dicarboxylate metabolism</text>
<line x1="130.87" y1="275" x2="130.87" y2="276.3" stroke="#444" stroke-width="0.4"/>
<text x="0" y="0" font-size="3.25" fill="#666" text-anchor="end" font-family="Liberation Sans" transform="translate(133.77,277.6) rotate(-90)">Histidine metabolism</text>
<line x1="136.4" y1="275" x2="136.4" y2="276.3" stroke="#444" stroke-width="0.4"/>
<text x="0" y="0" font-size="3.25" fill="#666" text-anchor="end" font-family="Liberation Sans" transform="translate(139.3,277.6) rotate(-90)">Lysine biosynthesis</text>
<line x1="141.93" y1="275" x2="141.93" y2="276.3" stroke="#444" stroke-width="0.4"/>
<text x="0" y="0" font-size="3.25" fill="#666" text-anchor="end" font-family="Liberation Sans" transform="translate(144.83,277.6) rotate(-90)">Lysine degradation</text>
<line x1="147.46" y1="275" x2="147.46" y2="276.3" stroke="#444" stroke-width="0.4"/>
<text x="0" y="0" font-size="3.25" fill="#666" text-anchor="end" font-family="Liberation Sans" transform="translate(150.36,277.6) rotate(-90)">Monobactam biosynthesis</text>
<line x1="152.99" y1="275" x2="152.99" y2="276.3" stroke="#444" stroke-width="0.4"/>
<text x="0" y="0" font-size="3.25" fill="#666" text-anchor="end" font-family="Liberation Sans" transform="translate(155.89,277.6) rotate(-90)">Nicotinate and nicotinamide metabolism</text>
<line x1="158.52" y1="275" x2="158.52" y2="276.3" stroke="#444" stroke-width="0.4"/>
<text x="0" y="0" font-size="3.25" fill="#666" text-anchor="end" font-family="Liberation Sans" transform="translate(161.42,277.6) rotate(-90)">Pantothenate and CoA biosynthesis</text>
<line x1="164.05" y1="275" x2="164.05" y2="276.3" stroke="#444" stroke-width="0.4"/>
<text x="0" y="0" font-size="3.25" fill="#666" text-anchor="end" font-family="Liberation Sans" transform="translate(166.95,277.6) rotate(-90)">Phenylalanine metabolism</text>
<line x1="169.58" y1="275" x2="169.58" y2="276.3" stroke="#444" stroke-width="0.4"/>
<text x="0" y="0" font-size="3.25" fill="#666" text-anchor="end" font-family="Liberation Sans" transform="translate(172.48,277.6) rotate(-90)">Phenylalanine, tyrosine and tryptophan biosynthesis</text>
<line x1="175.11" y1="275" x2="175.11" y2="276.3" stroke="#444" stroke-width="0.4"/>
<text x="0" y="0" font-size="3.25" fill="#666" text-anchor="end" font-family="Liberation Sans" transform="translate(178.01,277.6) rotate(-90)">Phenylpropanoid biosynthesis</text>
<line x1="180.64" y1="275" x2="180.64" y2="276.3" stroke="#444" stroke-width="0.4"/>
<text x="0" y="0" font-size="3.25" fill="#666" text-anchor="end" font-family="Liberation Sans" transform="translate(183.54,277.6) rotate(-90)">Plant hormone signal transduction</text>
<line x1="186.18" y1="275" x2="186.18" y2="276.3" stroke="#444" stroke-width="0.4"/>
<text x="0" y="0" font-size="3.25" fill="#666" text-anchor="end" font-family="Liberation Sans" transform="translate(189.08,277.6) rotate(-90)">Porphyrin and chlorophyll metabolism</text>
<line x1="191.71" y1="275" x2="191.71" y2="276.3" stroke="#444" stroke-width="0.4"/>
<text x="0" y="0" font-size="3.25" fill="#666" text-anchor="end" font-family="Liberation Sans" transform="translate(194.61,277.6) rotate(-90)">Purine metabolism</text>
<line x1="197.24" y1="275" x2="197.24" y2="276.3" stroke="#444" stroke-width="0.4"/>
<text x="0" y="0" font-size="3.25" fill="#666" text-anchor="end" font-family="Liberation Sans" transform="translate(200.14,277.6) rotate(-90)">Pyruvate metabolism</text>
<line x1="202.77" y1="275" x2="202.77" y2="276.3" stroke="#444" stroke-width="0.4"/>
<text x="0" y="0" font-size="3.25" fill="#666" text-anchor="end" font-family="Liberation Sans" transform="translate(205.67,277.6) rotate(-90)">Riboflavin metabolism</text>
<line x1="208.3" y1="275" x2="208.3" y2="276.3" stroke="#444" stroke-width="0.4"/>
<text x="0" y="0" font-size="3.25" fill="#666" text-anchor="end" font-family="Liberation Sans" transform="translate(211.2,277.6) rotate(-90)">Sulfur metabolism</text>
<line x1="213.83" y1="275" x2="213.83" y2="276.3" stroke="#444" stroke-width="0.4"/>
<text x="0" y="0" font-size="3.25" fill="#666" text-anchor="end" font-family="Liberation Sans" transform="translate(216.73,277.6) rotate(-90)">Taurine and hypotaurine metabolism</text>
<line x1="219.36" y1="275" x2="219.36" y2="276.3" stroke="#444" stroke-width="0.4"/>
<text x="0" y="0" font-size="3.25" fill="#666" text-anchor="end" font-family="Liberation Sans" transform="translate(222.26,277.6) rotate(-90)">Tyrosine metabolism</text>
<line x1="224.89" y1="275" x2="224.89" y2="276.3" stroke="#444" stroke-width="0.4"/>
<text x="0" y="0" font-size="3.25" fill="#666" text-anchor="end" font-family="Liberation Sans" transform="translate(227.79,277.6) rotate(-90)">Tropane, piperidine and pyridine alkaloid biosynthesis</text>
<line x1="230.42" y1="275" x2="230.42" y2="276.3" stroke="#444" stroke-width="0.4"/>
<text x="0" y="0" font-size="3.25" fill="#666" text-anchor="end" font-family="Liberation Sans" transform="translate(233.32,277.6) rotate(-90)">Valine, leucine and isoleucine biosynthesis</text>
<line x1="235.95" y1="275" x2="235.95" y2="276.3" stroke="#444" stroke-width="0.4"/>
<text x="0" y="0" font-size="3.25" fill="#666" text-anchor="end" font-family="Liberation Sans" transform="translate(238.85,277.6) rotate(-90)">Valine, leucine and isoleucine degradation</text>
<line x1="241.48" y1="275" x2="241.48" y2="276.3" stroke="#444" stroke-width="0.4"/>
<text x="0" y="0" font-size="3.25" fill="#666" text-anchor="end" font-family="Liberation Sans" transform="translate(244.38,277.6) rotate(-90)">beta-Alanine metabolism</text>
<text x="0" y="0" font-size="4.2" fill="#000" text-anchor="middle" font-family="Liberation Sans" transform="translate(22.8,239.9) rotate(-90) scale(1,1.2)">-log10(Pvalue)</text>
<text x="250" y="233.9" font-size="3.4" fill="#111" text-anchor="start" font-family="Liberation Sans">type</text>
<rect x="250" y="236.5" width="5.3" height="4.5" fill="#f8766d"/>
<rect x="250" y="241.9" width="5.3" height="5.3" fill="#00bfc4"/>
<text x="256.4" y="240.1" font-size="3.4" fill="#333" text-anchor="start" font-family="Liberation Sans">gene</text>
<text x="256.4" y="245.7" font-size="3.4" fill="#333" text-anchor="start" font-family="Liberation Sans">meta</text>
<rect x="283.8" y="201.7" width="217.4" height="70.9" fill="#e4e4e4"/>
<rect x="284.4" y="264.9" width="1.8" height="4.45" fill="#f8766d"/>
<rect x="286.21" y="255.1" width="1.8" height="14.25" fill="#00bfc4"/>
<rect x="288.41" y="256.1" width="1.8" height="13.25" fill="#f8766d"/>
<rect x="290.22" y="264.1" width="1.8" height="5.25" fill="#00bfc4"/>
<rect x="292.42" y="259.9" width="1.8" height="9.45" fill="#f8766d"/>
<rect x="294.23" y="269" width="1.8" height="0.35" fill="#00bfc4"/>
<rect x="296.43" y="260.7" width="1.8" height="8.65" fill="#f8766d"/>
<rect x="298.24" y="267.4" width="1.8" height="1.95" fill="#00bfc4"/>
<rect x="302.25" y="259.9" width="1.8" height="9.45" fill="#00bfc4"/>
<rect x="304.46" y="256.1" width="1.8" height="13.25" fill="#f8766d"/>
<rect x="306.26" y="268.2" width="1.8" height="1.15" fill="#00bfc4"/>
<rect x="308.47" y="266.3" width="1.8" height="3.05" fill="#f8766d"/>
<rect x="310.27" y="267.2" width="1.8" height="2.15" fill="#00bfc4"/>
<rect x="312.48" y="262" width="1.8" height="7.35" fill="#f8766d"/>
<rect x="314.28" y="269" width="1.8" height="0.35" fill="#00bfc4"/>
<rect x="316.49" y="264.1" width="1.8" height="5.25" fill="#f8766d"/>
<rect x="318.3" y="253.7" width="1.8" height="15.65" fill="#00bfc4"/>
<rect x="320.5" y="264.9" width="1.8" height="4.45" fill="#f8766d"/>
<rect x="322.31" y="269" width="1.8" height="0.35" fill="#00bfc4"/>
<rect x="324.51" y="269" width="1.8" height="0.35" fill="#f8766d"/>
<rect x="326.32" y="265.1" width="1.8" height="4.25" fill="#00bfc4"/>
<rect x="330.33" y="267.6" width="1.8" height="1.75" fill="#00bfc4"/>
<rect x="332.53" y="226.4" width="1.8" height="42.95" fill="#f8766d"/>
<rect x="334.34" y="266.1" width="1.8" height="3.25" fill="#00bfc4"/>
<rect x="338.35" y="266.1" width="1.8" height="3.25" fill="#00bfc4"/>
<rect x="340.56" y="267" width="1.8" height="2.35" fill="#f8766d"/>
<rect x="342.36" y="258.1" width="1.8" height="11.25" fill="#00bfc4"/>
<rect x="344.57" y="249.4" width="1.8" height="19.95" fill="#f8766d"/>
<rect x="346.37" y="256.6" width="1.8" height="12.75" fill="#00bfc4"/>
<rect x="348.58" y="269" width="1.8" height="0.35" fill="#f8766d"/>
<rect x="350.38" y="269" width="1.8" height="0.35" fill="#00bfc4"/>
<rect x="352.59" y="254.1" width="1.8" height="15.25" fill="#f8766d"/>
<rect x="354.39" y="268" width="1.8" height="1.35" fill="#00bfc4"/>
<rect x="356.6" y="255.1" width="1.8" height="14.25" fill="#f8766d"/>
<rect x="358.41" y="262.8" width="1.8" height="6.55" fill="#00bfc4"/>
<rect x="360.61" y="250" width="1.8" height="19.35" fill="#f8766d"/>
<rect x="362.42" y="267" width="1.8" height="2.35" fill="#00bfc4"/>
<rect x="364.62" y="265.1" width="1.8" height="4.25" fill="#f8766d"/>
<rect x="366.43" y="268" width="1.8" height="1.35" fill="#00bfc4"/>
<rect x="368.63" y="269" width="1.8" height="0.35" fill="#f8766d"/>
<rect x="370.44" y="258.1" width="1.8" height="11.25" fill="#00bfc4"/>
<rect x="372.65" y="259.9" width="1.8" height="9.45" fill="#f8766d"/>
<rect x="374.45" y="267" width="1.8" height="2.35" fill="#00bfc4"/>
<rect x="376.66" y="267.6" width="1.8" height="1.75" fill="#f8766d"/>
<rect x="378.46" y="269" width="1.8" height="0.35" fill="#00bfc4"/>
<rect x="380.67" y="260.8" width="1.8" height="8.55" fill="#f8766d"/>
<rect x="382.47" y="269.2" width="1.8" height="0.15" fill="#00bfc4"/>
<rect x="384.68" y="268.2" width="1.8" height="1.15" fill="#f8766d"/>
<rect x="386.48" y="269" width="1.8" height="0.35" fill="#00bfc4"/>
<rect x="388.69" y="262" width="1.8" height="7.35" fill="#f8766d"/>
<rect x="390.49" y="269" width="1.8" height="0.35" fill="#00bfc4"/>
<rect x="392.7" y="269.2" width="1.8" height="0.15" fill="#f8766d"/>
<rect x="394.51" y="264.1" width="1.8" height="5.25" fill="#00bfc4"/>
<rect x="396.71" y="269" width="1.8" height="0.35" fill="#f8766d"/>
<rect x="398.52" y="268.4" width="1.8" height="0.95" fill="#00bfc4"/>
<rect x="400.72" y="269.2" width="1.8" height="0.15" fill="#f8766d"/>
<rect x="402.53" y="263" width="1.8" height="6.35" fill="#00bfc4"/>
<rect x="404.73" y="269.2" width="1.8" height="0.15" fill="#f8766d"/>
<rect x="406.54" y="268" width="1.8" height="1.35" fill="#00bfc4"/>
<rect x="408.74" y="267" width="1.8" height="2.35" fill="#f8766d"/>
<rect x="410.55" y="268.7" width="1.8" height="0.65" fill="#00bfc4"/>
<rect x="412.76" y="237" width="1.8" height="32.35" fill="#f8766d"/>
<rect x="414.56" y="269" width="1.8" height="0.35" fill="#00bfc4"/>
<rect x="416.77" y="260.1" width="1.8" height="9.25" fill="#f8766d"/>
<rect x="418.57" y="264.1" width="1.8" height="5.25" fill="#00bfc4"/>
<rect x="420.78" y="205" width="1.8" height="64.35" fill="#f8766d"/>
<rect x="422.58" y="269.2" width="1.8" height="0.15" fill="#00bfc4"/>
<rect x="424.79" y="205" width="1.8" height="64.35" fill="#f8766d"/>
<rect x="426.59" y="268" width="1.8" height="1.35" fill="#00bfc4"/>
<rect x="428.8" y="266.1" width="1.8" height="3.25" fill="#f8766d"/>
<rect x="430.61" y="267.6" width="1.8" height="1.75" fill="#00bfc4"/>
<rect x="434.62" y="267" width="1.8" height="2.35" fill="#00bfc4"/>
<rect x="438.63" y="268.7" width="1.8" height="0.65" fill="#00bfc4"/>
<rect x="440.83" y="268.2" width="1.8" height="1.15" fill="#f8766d"/>
<rect x="442.64" y="264.9" width="1.8" height="4.45" fill="#00bfc4"/>
<rect x="444.84" y="269" width="1.8" height="0.35" fill="#f8766d"/>
<rect x="446.65" y="262.5" width="1.8" height="6.85" fill="#00bfc4"/>
<rect x="448.86" y="269.2" width="1.8" height="0.15" fill="#f8766d"/>
<rect x="450.66" y="264.9" width="1.8" height="4.45" fill="#00bfc4"/>
<rect x="452.87" y="258.9" width="1.8" height="10.45" fill="#f8766d"/>
<rect x="454.67" y="267" width="1.8" height="2.35" fill="#00bfc4"/>
<rect x="458.68" y="266.1" width="1.8" height="3.25" fill="#00bfc4"/>
<rect x="460.89" y="259.3" width="1.8" height="10.05" fill="#f8766d"/>
<rect x="462.69" y="266.1" width="1.8" height="3.25" fill="#00bfc4"/>
<rect x="464.9" y="268.4" width="1.8" height="0.95" fill="#f8766d"/>
<rect x="466.7" y="258.9" width="1.8" height="10.45" fill="#00bfc4"/>
<rect x="468.91" y="257.8" width="1.8" height="11.55" fill="#f8766d"/>
<rect x="470.72" y="264.1" width="1.8" height="5.25" fill="#00bfc4"/>
<rect x="472.92" y="259.1" width="1.8" height="10.25" fill="#f8766d"/>
<rect x="474.73" y="267" width="1.8" height="2.35" fill="#00bfc4"/>
<rect x="476.93" y="259.1" width="1.8" height="10.25" fill="#f8766d"/>
<rect x="478.74" y="268.7" width="1.8" height="0.65" fill="#00bfc4"/>
<rect x="480.94" y="268" width="1.8" height="1.35" fill="#f8766d"/>
<rect x="482.75" y="266.1" width="1.8" height="3.25" fill="#00bfc4"/>
<rect x="484.96" y="247.9" width="1.8" height="21.45" fill="#f8766d"/>
<rect x="486.76" y="267.6" width="1.8" height="1.75" fill="#00bfc4"/>
<rect x="488.97" y="268" width="1.8" height="1.35" fill="#f8766d"/>
<rect x="490.77" y="269" width="1.8" height="0.35" fill="#00bfc4"/>
<rect x="492.98" y="267" width="1.8" height="2.35" fill="#f8766d"/>
<rect x="494.78" y="264.9" width="1.8" height="4.45" fill="#00bfc4"/>
<rect x="496.99" y="254" width="1.8" height="15.35" fill="#f8766d"/>
<rect x="498.79" y="268" width="1.8" height="1.35" fill="#00bfc4"/>
<line x1="283.8" y1="257.4" x2="501.2" y2="257.4" stroke="#f47a72" stroke-width="0.6" stroke-dasharray="1.3,1.3"/>
<line x1="283.8" y1="261.5" x2="501.2" y2="261.5" stroke="#4fc9cf" stroke-width="0.6" stroke-dasharray="1.3,1.3"/>
<text x="498.8" y="258.5" font-size="3.25" fill="#222" text-anchor="end" font-family="Liberation Sans">P-value=0.01</text>
<text x="498.8" y="262.6" font-size="3.25" fill="#222" text-anchor="end" font-family="Liberation Sans">P-value=0.05</text>
<line x1="282.6" y1="269.35" x2="283.8" y2="269.35" stroke="#444" stroke-width="0.4"/>
<text x="0" y="0" font-size="3.2" fill="#555" text-anchor="middle" font-family="Liberation Sans" transform="translate(281.6,269.35) rotate(-90)">0</text>
<line x1="282.6" y1="251.35" x2="283.8" y2="251.35" stroke="#444" stroke-width="0.4"/>
<text x="0" y="0" font-size="3.2" fill="#555" text-anchor="middle" font-family="Liberation Sans" transform="translate(281.6,251.35) rotate(-90)">2</text>
<line x1="282.6" y1="233.35" x2="283.8" y2="233.35" stroke="#444" stroke-width="0.4"/>
<text x="0" y="0" font-size="3.2" fill="#555" text-anchor="middle" font-family="Liberation Sans" transform="translate(281.6,233.35) rotate(-90)">4</text>
<line x1="282.6" y1="215.35" x2="283.8" y2="215.35" stroke="#444" stroke-width="0.4"/>
<text x="0" y="0" font-size="3.2" fill="#555" text-anchor="middle" font-family="Liberation Sans" transform="translate(281.6,215.35) rotate(-90)">6</text>
<line x1="286.21" y1="272.6" x2="286.21" y2="273.9" stroke="#444" stroke-width="0.4"/>
<text x="0" y="0" font-size="3.25" fill="#666" text-anchor="end" font-family="Liberation Sans" transform="translate(288.21,275.3) rotate(-90)">2-Oxocarboxylic acid metabolism</text>
<line x1="290.22" y1="272.6" x2="290.22" y2="273.9" stroke="#444" stroke-width="0.4"/>
<text x="0" y="0" font-size="3.25" fill="#666" text-anchor="end" font-family="Liberation Sans" transform="translate(292.22,275.3) rotate(-90)">ABC transporters</text>
<line x1="294.23" y1="272.6" x2="294.23" y2="273.9" stroke="#444" stroke-width="0.4"/>
<text x="0" y="0" font-size="3.25" fill="#666" text-anchor="end" font-family="Liberation Sans" transform="translate(296.23,275.3) rotate(-90)">Alanine, aspartate and glutamate metabolism</text>
<line x1="298.24" y1="272.6" x2="298.24" y2="273.9" stroke="#444" stroke-width="0.4"/>
<text x="0" y="0" font-size="3.25" fill="#666" text-anchor="end" font-family="Liberation Sans" transform="translate(300.24,275.3) rotate(-90)">Amino sugar and nucleotide sugar metabolism</text>
<line x1="302.25" y1="272.6" x2="302.25" y2="273.9" stroke="#444" stroke-width="0.4"/>
<text x="0" y="0" font-size="3.25" fill="#666" text-anchor="end" font-family="Liberation Sans" transform="translate(304.25,275.3) rotate(-90)">Aminoacyl-tRNA biosynthesis</text>
<line x1="306.26" y1="272.6" x2="306.26" y2="273.9" stroke="#444" stroke-width="0.4"/>
<text x="0" y="0" font-size="3.25" fill="#666" text-anchor="end" font-family="Liberation Sans" transform="translate(308.26,275.3) rotate(-90)">Arginine and proline metabolism</text>
<line x1="310.27" y1="272.6" x2="310.27" y2="273.9" stroke="#444" stroke-width="0.4"/>
<text x="0" y="0" font-size="3.25" fill="#666" text-anchor="end" font-family="Liberation Sans" transform="translate(312.27,275.3) rotate(-90)">Arginine biosynthesis</text>
<line x1="314.28" y1="272.6" x2="314.28" y2="273.9" stroke="#444" stroke-width="0.4"/>
<text x="0" y="0" font-size="3.25" fill="#666" text-anchor="end" font-family="Liberation Sans" transform="translate(316.28,275.3) rotate(-90)">Ascorbate and aldarate metabolism</text>
<line x1="318.3" y1="272.6" x2="318.3" y2="273.9" stroke="#444" stroke-width="0.4"/>
<text x="0" y="0" font-size="3.25" fill="#666" text-anchor="end" font-family="Liberation Sans" transform="translate(320.3,275.3) rotate(-90)">Biosynthesis of amino acids</text>
<line x1="322.31" y1="272.6" x2="322.31" y2="273.9" stroke="#444" stroke-width="0.4"/>
<text x="0" y="0" font-size="3.25" fill="#666" text-anchor="end" font-family="Liberation Sans" transform="translate(324.31,275.3) rotate(-90)">Butanoate metabolism</text>
<line x1="326.32" y1="272.6" x2="326.32" y2="273.9" stroke="#444" stroke-width="0.4"/>
<text x="0" y="0" font-size="3.25" fill="#666" text-anchor="end" font-family="Liberation Sans" transform="translate(328.32,275.3) rotate(-90)">Carbon fixation in photosynthetic organisms</text>
<line x1="330.33" y1="272.6" x2="330.33" y2="273.9" stroke="#444" stroke-width="0.4"/>
<text x="0" y="0" font-size="3.25" fill="#666" text-anchor="end" font-family="Liberation Sans" transform="translate(332.33,275.3) rotate(-90)">Carbon metabolism</text>
<line x1="334.34" y1="272.6" x2="334.34" y2="273.9" stroke="#444" stroke-width="0.4"/>
<text x="0" y="0" font-size="3.25" fill="#666" text-anchor="end" font-family="Liberation Sans" transform="translate(336.34,275.3) rotate(-90)">Carotenoid biosynthesis</text>
<line x1="338.35" y1="272.6" x2="338.35" y2="273.9" stroke="#444" stroke-width="0.4"/>
<text x="0" y="0" font-size="3.25" fill="#666" text-anchor="end" font-family="Liberation Sans" transform="translate(340.35,275.3) rotate(-90)">Citrate cycle (TCA cycle)</text>
<line x1="342.36" y1="272.6" x2="342.36" y2="273.9" stroke="#444" stroke-width="0.4"/>
<text x="0" y="0" font-size="3.25" fill="#666" text-anchor="end" font-family="Liberation Sans" transform="translate(344.36,275.3) rotate(-90)">Cyanoamino acid metabolism</text>
<line x1="346.37" y1="272.6" x2="346.37" y2="273.9" stroke="#444" stroke-width="0.4"/>
<text x="0" y="0" font-size="3.25" fill="#666" text-anchor="end" font-family="Liberation Sans" transform="translate(348.37,275.3) rotate(-90)">Cysteine and methionine metabolism</text>
<line x1="350.38" y1="272.6" x2="350.38" y2="273.9" stroke="#444" stroke-width="0.4"/>
<text x="0" y="0" font-size="3.25" fill="#666" text-anchor="end" font-family="Liberation Sans" transform="translate(352.38,275.3) rotate(-90)">Fatty acid biosynthesis</text>
<line x1="354.39" y1="272.6" x2="354.39" y2="273.9" stroke="#444" stroke-width="0.4"/>
<text x="0" y="0" font-size="3.25" fill="#666" text-anchor="end" font-family="Liberation Sans" transform="translate(356.39,275.3) rotate(-90)">Galactose metabolism</text>
<line x1="358.41" y1="272.6" x2="358.41" y2="273.9" stroke="#444" stroke-width="0.4"/>
<text x="0" y="0" font-size="3.25" fill="#666" text-anchor="end" font-family="Liberation Sans" transform="translate(360.41,275.3) rotate(-90)">Glucosinolate biosynthesis</text>
<line x1="362.42" y1="272.6" x2="362.42" y2="273.9" stroke="#444" stroke-width="0.4"/>
<text x="0" y="0" font-size="3.25" fill="#666" text-anchor="end" font-family="Liberation Sans" transform="translate(364.42,275.3) rotate(-90)">Glutathione metabolism</text>
<line x1="366.43" y1="272.6" x2="366.43" y2="273.9" stroke="#444" stroke-width="0.4"/>
<text x="0" y="0" font-size="3.25" fill="#666" text-anchor="end" font-family="Liberation Sans" transform="translate(368.43,275.3) rotate(-90)">Glycerophospholipid metabolism</text>
<line x1="370.44" y1="272.6" x2="370.44" y2="273.9" stroke="#444" stroke-width="0.4"/>
<text x="0" y="0" font-size="3.25" fill="#666" text-anchor="end" font-family="Liberation Sans" transform="translate(372.44,275.3) rotate(-90)">Glycine, serine and threonine metabolism</text>
<line x1="374.45" y1="272.6" x2="374.45" y2="273.9" stroke="#444" stroke-width="0.4"/>
<text x="0" y="0" font-size="3.25" fill="#666" text-anchor="end" font-family="Liberation Sans" transform="translate(376.45,275.3) rotate(-90)">Glycolysis / Gluconeogenesis</text>
<line x1="378.46" y1="272.6" x2="378.46" y2="273.9" stroke="#444" stroke-width="0.4"/>
<text x="0" y="0" font-size="3.25" fill="#666" text-anchor="end" font-family="Liberation Sans" transform="translate(380.46,275.3) rotate(-90)">Glyoxylate and dicarboxylate metabolism</text>
<line x1="382.47" y1="272.6" x2="382.47" y2="273.9" stroke="#444" stroke-width="0.4"/>
<text x="0" y="0" font-size="3.25" fill="#666" text-anchor="end" font-family="Liberation Sans" transform="translate(384.47,275.3) rotate(-90)">Histidine metabolism</text>
<line x1="386.48" y1="272.6" x2="386.48" y2="273.9" stroke="#444" stroke-width="0.4"/>
<text x="0" y="0" font-size="3.25" fill="#666" text-anchor="end" font-family="Liberation Sans" transform="translate(388.48,275.3) rotate(-90)">Isoquinoline alkaloid biosynthesis</text>
<line x1="390.49" y1="272.6" x2="390.49" y2="273.9" stroke="#444" stroke-width="0.4"/>
<text x="0" y="0" font-size="3.25" fill="#666" text-anchor="end" font-family="Liberation Sans" transform="translate(392.49,275.3) rotate(-90)">Linoleic acid metabolism</text>
<line x1="394.51" y1="272.6" x2="394.51" y2="273.9" stroke="#444" stroke-width="0.4"/>
<text x="0" y="0" font-size="3.25" fill="#666" text-anchor="end" font-family="Liberation Sans" transform="translate(396.51,275.3) rotate(-90)">Lysine degradation</text>
<line x1="398.52" y1="272.6" x2="398.52" y2="273.9" stroke="#444" stroke-width="0.4"/>
<text x="0" y="0" font-size="3.25" fill="#666" text-anchor="end" font-family="Liberation Sans" transform="translate(400.52,275.3) rotate(-90)">Nicotinate and nicotinamide metabolism</text>
<line x1="402.53" y1="272.6" x2="402.53" y2="273.9" stroke="#444" stroke-width="0.4"/>
<text x="0" y="0" font-size="3.25" fill="#666" text-anchor="end" font-family="Liberation Sans" transform="translate(404.53,275.3) rotate(-90)">Pantothenate and CoA biosynthesis</text>
<line x1="406.54" y1="272.6" x2="406.54" y2="273.9" stroke="#444" stroke-width="0.4"/>
<text x="0" y="0" font-size="3.25" fill="#666" text-anchor="end" font-family="Liberation Sans" transform="translate(408.54,275.3) rotate(-90)">Pentose and glucuronate interconversions</text>
<line x1="410.55" y1="272.6" x2="410.55" y2="273.9" stroke="#444" stroke-width="0.4"/>
<text x="0" y="0" font-size="3.25" fill="#666" text-anchor="end" font-family="Liberation Sans" transform="translate(412.55,275.3) rotate(-90)">Pentose phosphate pathway</text>
<line x1="414.56" y1="272.6" x2="414.56" y2="273.9" stroke="#444" stroke-width="0.4"/>
<text x="0" y="0" font-size="3.25" fill="#666" text-anchor="end" font-family="Liberation Sans" transform="translate(416.56,275.3) rotate(-90)">Phenylalanine metabolism</text>
<line x1="418.57" y1="272.6" x2="418.57" y2="273.9" stroke="#444" stroke-width="0.4"/>
<text x="0" y="0" font-size="3.25" fill="#666" text-anchor="end" font-family="Liberation Sans" transform="translate(420.57,275.3) rotate(-90)">Phenylalanine, tyrosine and tryptophan biosynthesis</text>
<line x1="422.58" y1="272.6" x2="422.58" y2="273.9" stroke="#444" stroke-width="0.4"/>
<text x="0" y="0" font-size="3.25" fill="#666" text-anchor="end" font-family="Liberation Sans" transform="translate(424.58,275.3) rotate(-90)">Phenylpropanoid biosynthesis</text>
<line x1="426.59" y1="272.6" x2="426.59" y2="273.9" stroke="#444" stroke-width="0.4"/>
<text x="0" y="0" font-size="3.25" fill="#666" text-anchor="end" font-family="Liberation Sans" transform="translate(428.59,275.3) rotate(-90)">Plant hormone signal transduction</text>
<line x1="430.61" y1="272.6" x2="430.61" y2="273.9" stroke="#444" stroke-width="0.4"/>
<text x="0" y="0" font-size="3.25" fill="#666" text-anchor="end" font-family="Liberation Sans" transform="translate(432.61,275.3) rotate(-90)">Porphyrin and chlorophyll metabolism</text>
<line x1="434.62" y1="272.6" x2="434.62" y2="273.9" stroke="#444" stroke-width="0.4"/>
<text x="0" y="0" font-size="3.25" fill="#666" text-anchor="end" font-family="Liberation Sans" transform="translate(436.62,275.3) rotate(-90)">Purine metabolism</text>
<line x1="438.63" y1="272.6" x2="438.63" y2="273.9" stroke="#444" stroke-width="0.4"/>
<text x="0" y="0" font-size="3.25" fill="#666" text-anchor="end" font-family="Liberation Sans" transform="translate(440.63,275.3) rotate(-90)">Pyrimidine metabolism</text>
<line x1="442.64" y1="272.6" x2="442.64" y2="273.9" stroke="#444" stroke-width="0.4"/>
<text x="0" y="0" font-size="3.25" fill="#666" text-anchor="end" font-family="Liberation Sans" transform="translate(444.64,275.3) rotate(-90)">Pyruvate metabolism</text>
<line x1="446.65" y1="272.6" x2="446.65" y2="273.9" stroke="#444" stroke-width="0.4"/>
<text x="0" y="0" font-size="3.25" fill="#666" text-anchor="end" font-family="Liberation Sans" transform="translate(448.65,275.3) rotate(-90)">Riboflavin metabolism</text>
<line x1="450.66" y1="272.6" x2="450.66" y2="273.9" stroke="#444" stroke-width="0.4"/>
<text x="0" y="0" font-size="3.25" fill="#666" text-anchor="end" font-family="Liberation Sans" transform="translate(452.66,275.3) rotate(-90)">Sulfur metabolism</text>
<line x1="454.67" y1="272.6" x2="454.67" y2="273.9" stroke="#444" stroke-width="0.4"/>
<text x="0" y="0" font-size="3.25" fill="#666" text-anchor="end" font-family="Liberation Sans" transform="translate(456.67,275.3) rotate(-90)">Starch and sucrose metabolism</text>
<line x1="458.68" y1="272.6" x2="458.68" y2="273.9" stroke="#444" stroke-width="0.4"/>
<text x="0" y="0" font-size="3.25" fill="#666" text-anchor="end" font-family="Liberation Sans" transform="translate(460.68,275.3) rotate(-90)">Terpenoid backbone biosynthesis</text>
<line x1="462.69" y1="272.6" x2="462.69" y2="273.9" stroke="#444" stroke-width="0.4"/>
<text x="0" y="0" font-size="3.25" fill="#666" text-anchor="end" font-family="Liberation Sans" transform="translate(464.69,275.3) rotate(-90)">Thiamine metabolism</text>
<line x1="466.7" y1="272.6" x2="466.7" y2="273.9" stroke="#444" stroke-width="0.4"/>
<text x="0" y="0" font-size="3.25" fill="#666" text-anchor="end" font-family="Liberation Sans" transform="translate(468.7,275.3) rotate(-90)">Tropane, piperidine and pyridine alkaloid biosynthesis</text>
<line x1="470.72" y1="272.6" x2="470.72" y2="273.9" stroke="#444" stroke-width="0.4"/>
<text x="0" y="0" font-size="3.25" fill="#666" text-anchor="end" font-family="Liberation Sans" transform="translate(472.72,275.3) rotate(-90)">Tyrosine metabolism</text>
<line x1="474.73" y1="272.6" x2="474.73" y2="273.9" stroke="#444" stroke-width="0.4"/>
<text x="0" y="0" font-size="3.25" fill="#666" text-anchor="end" font-family="Liberation Sans" transform="translate(476.73,275.3) rotate(-90)">Tryptophan metabolism</text>
<line x1="478.74" y1="272.6" x2="478.74" y2="273.9" stroke="#444" stroke-width="0.4"/>
<text x="0" y="0" font-size="3.25" fill="#666" text-anchor="end" font-family="Liberation Sans" transform="translate(480.74,275.3) rotate(-90)">Ubiquinone and other terpenoid-quinone biosynthesis</text>
<line x1="482.75" y1="272.6" x2="482.75" y2="273.9" stroke="#444" stroke-width="0.4"/>
<text x="0" y="0" font-size="3.25" fill="#666" text-anchor="end" font-family="Liberation Sans" transform="translate(484.75,275.3) rotate(-90)">Valine, leucine and isoleucine biosynthesis</text>
<line x1="486.76" y1="272.6" x2="486.76" y2="273.9" stroke="#444" stroke-width="0.4"/>
<text x="0" y="0" font-size="3.25" fill="#666" text-anchor="end" font-family="Liberation Sans" transform="translate(488.76,275.3) rotate(-90)">Valine, leucine and isoleucine degradation</text>
<line x1="490.77" y1="272.6" x2="490.77" y2="273.9" stroke="#444" stroke-width="0.4"/>
<text x="0" y="0" font-size="3.25" fill="#666" text-anchor="end" font-family="Liberation Sans" transform="translate(492.77,275.3) rotate(-90)">Vitamin B6 metabolism</text>
<line x1="494.78" y1="272.6" x2="494.78" y2="273.9" stroke="#444" stroke-width="0.4"/>
<text x="0" y="0" font-size="3.25" fill="#666" text-anchor="end" font-family="Liberation Sans" transform="translate(496.78,275.3) rotate(-90)">Zeatin biosynthesis</text>
<line x1="498.79" y1="272.6" x2="498.79" y2="273.9" stroke="#444" stroke-width="0.4"/>
<text x="0" y="0" font-size="3.25" fill="#666" text-anchor="end" font-family="Liberation Sans" transform="translate(500.79,275.3) rotate(-90)">beta-Alanine metabolism</text>
<text x="0" y="0" font-size="4.1" fill="#000" text-anchor="middle" font-family="Liberation Sans" transform="translate(278.1,236.9) rotate(-90) scale(1,1.2)">-log10(Pvalue)</text>
<text x="505.8" y="231.9" font-size="3.4" fill="#111" text-anchor="start" font-family="Liberation Sans">type</text>
<rect x="505.8" y="234.5" width="5.3" height="4.5" fill="#f8766d"/>
<rect x="505.8" y="239.9" width="5.3" height="5.3" fill="#00bfc4"/>
<text x="512.2" y="238.1" font-size="3.4" fill="#333" text-anchor="start" font-family="Liberation Sans">gene</text>
<text x="512.2" y="243.7" font-size="3.4" fill="#333" text-anchor="start" font-family="Liberation Sans">meta</text>
<rect x="541" y="201.5" width="214.8" height="71.1" fill="#e4e4e4"/>
<rect x="541.5" y="267.1" width="1.51" height="2.2" fill="#f8766d"/>
<rect x="543.01" y="259.2" width="1.51" height="10.1" fill="#00bfc4"/>
<rect x="544.85" y="265.9" width="1.51" height="3.4" fill="#f8766d"/>
<rect x="546.35" y="265" width="1.51" height="4.3" fill="#00bfc4"/>
<rect x="548.19" y="261.9" width="1.51" height="7.4" fill="#f8766d"/>
<rect x="549.7" y="269.2" width="1.51" height="0.1" fill="#00bfc4"/>
<rect x="551.54" y="265.9" width="1.51" height="3.4" fill="#f8766d"/>
<rect x="553.04" y="266.8" width="1.51" height="2.5" fill="#00bfc4"/>
<rect x="554.89" y="269.1" width="1.51" height="0.2" fill="#f8766d"/>
<rect x="556.39" y="269.1" width="1.51" height="0.2" fill="#00bfc4"/>
<rect x="558.23" y="265.9" width="1.51" height="3.4" fill="#f8766d"/>
<rect x="559.74" y="267.9" width="1.51" height="1.4" fill="#00bfc4"/>
<rect x="561.58" y="261" width="1.51" height="8.3" fill="#f8766d"/>
<rect x="563.08" y="253" width="1.51" height="16.3" fill="#00bfc4"/>
<rect x="566.43" y="268.1" width="1.51" height="1.2" fill="#00bfc4"/>
<rect x="568.27" y="263.9" width="1.51" height="5.4" fill="#f8766d"/>
<rect x="569.77" y="266.8" width="1.51" height="2.5" fill="#00bfc4"/>
<rect x="571.61" y="268.5" width="1.51" height="0.8" fill="#f8766d"/>
<rect x="573.12" y="265" width="1.51" height="4.3" fill="#00bfc4"/>
<rect x="574.96" y="269.1" width="1.51" height="0.2" fill="#f8766d"/>
<rect x="576.47" y="262.6" width="1.51" height="6.7" fill="#00bfc4"/>
<rect x="578.31" y="255.9" width="1.51" height="13.4" fill="#f8766d"/>
<rect x="579.81" y="267.2" width="1.51" height="2.1" fill="#00bfc4"/>
<rect x="583.16" y="265.1" width="1.51" height="4.2" fill="#00bfc4"/>
<rect x="586.5" y="263.9" width="1.51" height="5.4" fill="#00bfc4"/>
<rect x="588.34" y="251.7" width="1.51" height="17.6" fill="#f8766d"/>
<rect x="589.85" y="266" width="1.51" height="3.3" fill="#00bfc4"/>
<rect x="591.69" y="267.8" width="1.51" height="1.5" fill="#f8766d"/>
<rect x="595.03" y="243.1" width="1.51" height="26.2" fill="#f8766d"/>
<rect x="596.54" y="268.5" width="1.51" height="0.8" fill="#00bfc4"/>
<rect x="598.38" y="204.9" width="1.51" height="64.4" fill="#f8766d"/>
<rect x="599.89" y="268.8" width="1.51" height="0.5" fill="#00bfc4"/>
<rect x="601.73" y="265.1" width="1.51" height="4.2" fill="#f8766d"/>
<rect x="603.23" y="265.1" width="1.51" height="4.2" fill="#00bfc4"/>
<rect x="605.07" y="257.6" width="1.51" height="11.7" fill="#f8766d"/>
<rect x="606.58" y="267" width="1.51" height="2.3" fill="#00bfc4"/>
<rect x="608.42" y="258.3" width="1.51" height="11" fill="#f8766d"/>
<rect x="609.92" y="263.9" width="1.51" height="5.4" fill="#00bfc4"/>
<rect x="611.76" y="265.7" width="1.51" height="3.6" fill="#f8766d"/>
<rect x="613.27" y="266" width="1.51" height="3.3" fill="#00bfc4"/>
<rect x="615.11" y="267.9" width="1.51" height="1.4" fill="#f8766d"/>
<rect x="616.61" y="265" width="1.51" height="4.3" fill="#00bfc4"/>
<rect x="618.46" y="268" width="1.51" height="1.3" fill="#f8766d"/>
<rect x="619.96" y="267.6" width="1.51" height="1.7" fill="#00bfc4"/>
<rect x="621.8" y="267.1" width="1.51" height="2.2" fill="#f8766d"/>
<rect x="623.31" y="262.1" width="1.51" height="7.2" fill="#00bfc4"/>
<rect x="625.15" y="261.4" width="1.51" height="7.9" fill="#f8766d"/>
<rect x="626.65" y="264" width="1.51" height="5.3" fill="#00bfc4"/>
<rect x="628.49" y="267.9" width="1.51" height="1.4" fill="#f8766d"/>
<rect x="630" y="265" width="1.51" height="4.3" fill="#00bfc4"/>
<rect x="631.84" y="267.1" width="1.51" height="2.2" fill="#f8766d"/>
<rect x="633.34" y="268" width="1.51" height="1.3" fill="#00bfc4"/>
<rect x="635.18" y="268.9" width="1.51" height="0.4" fill="#f8766d"/>
<rect x="636.69" y="267.1" width="1.51" height="2.2" fill="#00bfc4"/>
<rect x="638.53" y="261" width="1.51" height="8.3" fill="#f8766d"/>
<rect x="640.04" y="269.2" width="1.51" height="0.1" fill="#00bfc4"/>
<rect x="641.88" y="264.9" width="1.51" height="4.4" fill="#f8766d"/>
<rect x="646.73" y="262.1" width="1.51" height="7.2" fill="#00bfc4"/>
<rect x="648.57" y="268.1" width="1.51" height="1.2" fill="#f8766d"/>
<rect x="650.07" y="265.2" width="1.51" height="4.1" fill="#00bfc4"/>
<rect x="653.42" y="268.1" width="1.51" height="1.2" fill="#00bfc4"/>
<rect x="655.26" y="254.9" width="1.51" height="14.4" fill="#f8766d"/>
<rect x="656.76" y="268.1" width="1.51" height="1.2" fill="#00bfc4"/>
<rect x="660.11" y="268.1" width="1.51" height="1.2" fill="#00bfc4"/>
<rect x="661.95" y="267.1" width="1.51" height="2.2" fill="#f8766d"/>
<rect x="663.46" y="262.1" width="1.51" height="7.2" fill="#00bfc4"/>
<rect x="665.3" y="268.1" width="1.51" height="1.2" fill="#f8766d"/>
<rect x="666.8" y="262.8" width="1.51" height="6.5" fill="#00bfc4"/>
<rect x="668.64" y="266" width="1.51" height="3.3" fill="#f8766d"/>
<rect x="670.15" y="265.2" width="1.51" height="4.1" fill="#00bfc4"/>
<rect x="671.99" y="235.1" width="1.51" height="34.2" fill="#f8766d"/>
<rect x="673.49" y="268.1" width="1.51" height="1.2" fill="#00bfc4"/>
<rect x="675.33" y="246" width="1.51" height="23.3" fill="#f8766d"/>
<rect x="676.84" y="260.8" width="1.51" height="8.5" fill="#00bfc4"/>
<rect x="678.68" y="242.4" width="1.51" height="26.9" fill="#f8766d"/>
<rect x="680.19" y="266.8" width="1.51" height="2.5" fill="#00bfc4"/>
<rect x="682.03" y="258.4" width="1.51" height="10.9" fill="#f8766d"/>
<rect x="683.53" y="267.1" width="1.51" height="2.2" fill="#00bfc4"/>
<rect x="685.37" y="213.1" width="1.51" height="56.2" fill="#f8766d"/>
<rect x="686.88" y="269.2" width="1.51" height="0.1" fill="#00bfc4"/>
<rect x="688.72" y="262.9" width="1.51" height="6.4" fill="#f8766d"/>
<rect x="690.22" y="265" width="1.51" height="4.3" fill="#00bfc4"/>
<rect x="692.06" y="267" width="1.51" height="2.3" fill="#f8766d"/>
<rect x="693.57" y="265" width="1.51" height="4.3" fill="#00bfc4"/>
<rect x="696.91" y="269.1" width="1.51" height="0.2" fill="#00bfc4"/>
<rect x="700.26" y="266.8" width="1.51" height="2.5" fill="#00bfc4"/>
<rect x="702.1" y="268.8" width="1.51" height="0.5" fill="#f8766d"/>
<rect x="703.61" y="267" width="1.51" height="2.3" fill="#00bfc4"/>
<rect x="705.45" y="268.8" width="1.51" height="0.5" fill="#f8766d"/>
<rect x="706.95" y="267.9" width="1.51" height="1.4" fill="#00bfc4"/>
<rect x="708.79" y="267.2" width="1.51" height="2.1" fill="#f8766d"/>
<rect x="710.3" y="267" width="1.51" height="2.3" fill="#00bfc4"/>
<rect x="712.14" y="260" width="1.51" height="9.3" fill="#f8766d"/>
<rect x="713.64" y="263.8" width="1.51" height="5.5" fill="#00bfc4"/>
<rect x="715.48" y="267.9" width="1.51" height="1.4" fill="#f8766d"/>
<rect x="716.99" y="267" width="1.51" height="2.3" fill="#00bfc4"/>
<rect x="718.83" y="254" width="1.51" height="15.3" fill="#f8766d"/>
<rect x="720.33" y="265" width="1.51" height="4.3" fill="#00bfc4"/>
<rect x="722.17" y="261" width="1.51" height="8.3" fill="#f8766d"/>
<rect x="723.68" y="263.8" width="1.51" height="5.5" fill="#00bfc4"/>
<rect x="725.52" y="264.2" width="1.51" height="5.1" fill="#f8766d"/>
<rect x="727.03" y="266.1" width="1.51" height="3.2" fill="#00bfc4"/>
<rect x="728.87" y="248.3" width="1.51" height="21" fill="#f8766d"/>
<rect x="732.21" y="264.2" width="1.51" height="5.1" fill="#f8766d"/>
<rect x="735.56" y="266.1" width="1.51" height="3.2" fill="#f8766d"/>
<rect x="737.06" y="265.2" width="1.51" height="4.1" fill="#00bfc4"/>
<rect x="738.9" y="250.2" width="1.51" height="19.1" fill="#f8766d"/>
<rect x="740.41" y="265.2" width="1.51" height="4.1" fill="#00bfc4"/>
<rect x="742.25" y="268.4" width="1.51" height="0.9" fill="#f8766d"/>
<rect x="745.6" y="267.2" width="1.51" height="2.1" fill="#f8766d"/>
<rect x="747.1" y="263.8" width="1.51" height="5.5" fill="#00bfc4"/>
<rect x="748.94" y="218.1" width="1.51" height="51.2" fill="#f8766d"/>
<rect x="752.29" y="254.9" width="1.51" height="14.4" fill="#f8766d"/>
<rect x="753.79" y="266.1" width="1.51" height="3.2" fill="#00bfc4"/>
<line x1="541" y1="259.1" x2="755.8" y2="259.1" stroke="#f47a72" stroke-width="0.6" stroke-dasharray="1.3,1.3"/>
<line x1="541" y1="262.5" x2="755.8" y2="262.5" stroke="#4fc9cf" stroke-width="0.6" stroke-dasharray="1.3,1.3"/>
<text x="753.6" y="260.2" font-size="3.25" fill="#222" text-anchor="end" font-family="Liberation Sans">P-value=0.01</text>
<text x="753.6" y="263.6" font-size="3.25" fill="#222" text-anchor="end" font-family="Liberation Sans">P-value=0.05</text>
<line x1="539.8" y1="269.3" x2="541" y2="269.3" stroke="#444" stroke-width="0.4"/>
<text x="0" y="0" font-size="3.2" fill="#555" text-anchor="middle" font-family="Liberation Sans" transform="translate(538.3,269.3) rotate(-90)">0</text>
<line x1="539.8" y1="248.7" x2="541" y2="248.7" stroke="#444" stroke-width="0.4"/>
<text x="0" y="0" font-size="3.2" fill="#555" text-anchor="middle" font-family="Liberation Sans" transform="translate(538.3,248.7) rotate(-90)">5</text>
<line x1="539.8" y1="228.1" x2="541" y2="228.1" stroke="#444" stroke-width="0.4"/>
<text x="0" y="0" font-size="3.2" fill="#555" text-anchor="middle" font-family="Liberation Sans" transform="translate(538.3,228.1) rotate(-90)">10</text>
<line x1="539.8" y1="207.5" x2="541" y2="207.5" stroke="#444" stroke-width="0.4"/>
<text x="0" y="0" font-size="3.2" fill="#555" text-anchor="middle" font-family="Liberation Sans" transform="translate(538.3,207.5) rotate(-90)">15</text>
<line x1="543.01" y1="272.6" x2="543.01" y2="273.9" stroke="#444" stroke-width="0.4"/>
<text x="0" y="0" font-size="3.25" fill="#666" text-anchor="end" font-family="Liberation Sans" transform="translate(544.91,274.7) rotate(-90)">2-Oxocarboxylic acid metabolism</text>
<line x1="546.35" y1="272.6" x2="546.35" y2="273.9" stroke="#444" stroke-width="0.4"/>
<text x="0" y="0" font-size="3.25" fill="#666" text-anchor="end" font-family="Liberation Sans" transform="translate(548.25,274.7) rotate(-90)">ABC transporters</text>
<line x1="549.7" y1="272.6" x2="549.7" y2="273.9" stroke="#444" stroke-width="0.4"/>
<text x="0" y="0" font-size="3.25" fill="#666" text-anchor="end" font-family="Liberation Sans" transform="translate(551.6,274.7) rotate(-90)">Alanine, aspartate and glutamate metabolism</text>
<line x1="553.04" y1="272.6" x2="553.04" y2="273.9" stroke="#444" stroke-width="0.4"/>
<text x="0" y="0" font-size="3.25" fill="#666" text-anchor="end" font-family="Liberation Sans" transform="translate(554.94,274.7) rotate(-90)">Arginine and proline metabolism</text>
<line x1="556.39" y1="272.6" x2="556.39" y2="273.9" stroke="#444" stroke-width="0.4"/>
<text x="0" y="0" font-size="3.25" fill="#666" text-anchor="end" font-family="Liberation Sans" transform="translate(558.29,274.7) rotate(-90)">Aminoacyl-tRNA biosynthesis</text>
<line x1="559.74" y1="272.6" x2="559.74" y2="273.9" stroke="#444" stroke-width="0.4"/>
<text x="0" y="0" font-size="3.25" fill="#666" text-anchor="end" font-family="Liberation Sans" transform="translate(561.64,274.7) rotate(-90)">Ascorbate and aldarate metabolism</text>
<line x1="563.08" y1="272.6" x2="563.08" y2="273.9" stroke="#444" stroke-width="0.4"/>
<text x="0" y="0" font-size="3.25" fill="#666" text-anchor="end" font-family="Liberation Sans" transform="translate(564.98,274.7) rotate(-90)">Biosynthesis of amino acids</text>
<line x1="566.43" y1="272.6" x2="566.43" y2="273.9" stroke="#444" stroke-width="0.4"/>
<text x="0" y="0" font-size="3.25" fill="#666" text-anchor="end" font-family="Liberation Sans" transform="translate(568.33,274.7) rotate(-90)">Butanoate metabolism</text>
<line x1="569.77" y1="272.6" x2="569.77" y2="273.9" stroke="#444" stroke-width="0.4"/>
<text x="0" y="0" font-size="3.25" fill="#666" text-anchor="end" font-family="Liberation Sans" transform="translate(571.67,274.7) rotate(-90)">Arginine biosynthesis</text>
<line x1="573.12" y1="272.6" x2="573.12" y2="273.9" stroke="#444" stroke-width="0.4"/>
<text x="0" y="0" font-size="3.25" fill="#666" text-anchor="end" font-family="Liberation Sans" transform="translate(575.02,274.7) rotate(-90)">Carbon fixation in photosynthetic organisms</text>
<line x1="576.47" y1="272.6" x2="576.47" y2="273.9" stroke="#444" stroke-width="0.4"/>
<text x="0" y="0" font-size="3.25" fill="#666" text-anchor="end" font-family="Liberation Sans" transform="translate(578.37,274.7) rotate(-90)">Carbon metabolism</text>
<line x1="579.81" y1="272.6" x2="579.81" y2="273.9" stroke="#444" stroke-width="0.4"/>
<text x="0" y="0" font-size="3.25" fill="#666" text-anchor="end" font-family="Liberation Sans" transform="translate(581.71,274.7) rotate(-90)">Carotenoid biosynthesis</text>
<line x1="583.16" y1="272.6" x2="583.16" y2="273.9" stroke="#444" stroke-width="0.4"/>
<text x="0" y="0" font-size="3.25" fill="#666" text-anchor="end" font-family="Liberation Sans" transform="translate(585.06,274.7) rotate(-90)">Citrate cycle (TCA cycle)</text>
<line x1="586.5" y1="272.6" x2="586.5" y2="273.9" stroke="#444" stroke-width="0.4"/>
<text x="0" y="0" font-size="3.25" fill="#666" text-anchor="end" font-family="Liberation Sans" transform="translate(588.4,274.7) rotate(-90)">Cyanoamino acid metabolism</text>
<line x1="589.85" y1="272.6" x2="589.85" y2="273.9" stroke="#444" stroke-width="0.4"/>
<text x="0" y="0" font-size="3.25" fill="#666" text-anchor="end" font-family="Liberation Sans" transform="translate(591.75,274.7) rotate(-90)">Cysteine and methionine metabolism</text>
<line x1="593.19" y1="272.6" x2="593.19" y2="273.9" stroke="#444" stroke-width="0.4"/>
<text x="0" y="0" font-size="3.25" fill="#666" text-anchor="end" font-family="Liberation Sans" transform="translate(595.09,274.7) rotate(-90)">Fatty acid biosynthesis</text>
<line x1="596.54" y1="272.6" x2="596.54" y2="273.9" stroke="#444" stroke-width="0.4"/>
<text x="0" y="0" font-size="3.25" fill="#666" text-anchor="end" font-family="Liberation Sans" transform="translate(598.44,274.7) rotate(-90)">Fatty acid degradation</text>
<line x1="599.89" y1="272.6" x2="599.89" y2="273.9" stroke="#444" stroke-width="0.4"/>
<text x="0" y="0" font-size="3.25" fill="#666" text-anchor="end" font-family="Liberation Sans" transform="translate(601.79,274.7) rotate(-90)">Flavonoid biosynthesis</text>
<line x1="603.23" y1="272.6" x2="603.23" y2="273.9" stroke="#444" stroke-width="0.4"/>
<text x="0" y="0" font-size="3.25" fill="#666" text-anchor="end" font-family="Liberation Sans" transform="translate(605.13,274.7) rotate(-90)">Fructose and mannose metabolism</text>
<line x1="606.58" y1="272.6" x2="606.58" y2="273.9" stroke="#444" stroke-width="0.4"/>
<text x="0" y="0" font-size="3.25" fill="#666" text-anchor="end" font-family="Liberation Sans" transform="translate(608.48,274.7) rotate(-90)">Galactose metabolism</text>
<line x1="609.92" y1="272.6" x2="609.92" y2="273.9" stroke="#444" stroke-width="0.4"/>
<text x="0" y="0" font-size="3.25" fill="#666" text-anchor="end" font-family="Liberation Sans" transform="translate(611.82,274.7) rotate(-90)">Glucosinolate biosynthesis</text>
<line x1="613.27" y1="272.6" x2="613.27" y2="273.9" stroke="#444" stroke-width="0.4"/>
<text x="0" y="0" font-size="3.25" fill="#666" text-anchor="end" font-family="Liberation Sans" transform="translate(615.17,274.7) rotate(-90)">Glutathione metabolism</text>
<line x1="616.61" y1="272.6" x2="616.61" y2="273.9" stroke="#444" stroke-width="0.4"/>
<text x="0" y="0" font-size="3.25" fill="#666" text-anchor="end" font-family="Liberation Sans" transform="translate(618.51,274.7) rotate(-90)">Glycerolipid metabolism</text>
<line x1="619.96" y1="272.6" x2="619.96" y2="273.9" stroke="#444" stroke-width="0.4"/>
<text x="0" y="0" font-size="3.25" fill="#666" text-anchor="end" font-family="Liberation Sans" transform="translate(621.86,274.7) rotate(-90)">Glycerophospholipid metabolism</text>
<line x1="623.31" y1="272.6" x2="623.31" y2="273.9" stroke="#444" stroke-width="0.4"/>
<text x="0" y="0" font-size="3.25" fill="#666" text-anchor="end" font-family="Liberation Sans" transform="translate(625.21,274.7) rotate(-90)">Glycine, serine and threonine metabolism</text>
<line x1="626.65" y1="272.6" x2="626.65" y2="273.9" stroke="#444" stroke-width="0.4"/>
<text x="0" y="0" font-size="3.25" fill="#666" text-anchor="end" font-family="Liberation Sans" transform="translate(628.55,274.7) rotate(-90)">Glycolysis / Gluconeogenesis</text>
<line x1="630" y1="272.6" x2="630" y2="273.9" stroke="#444" stroke-width="0.4"/>
<text x="0" y="0" font-size="3.25" fill="#666" text-anchor="end" font-family="Liberation Sans" transform="translate(631.9,274.7) rotate(-90)">Glyoxylate and dicarboxylate metabolism</text>
<line x1="633.34" y1="272.6" x2="633.34" y2="273.9" stroke="#444" stroke-width="0.4"/>
<text x="0" y="0" font-size="3.25" fill="#666" text-anchor="end" font-family="Liberation Sans" transform="translate(635.24,274.7) rotate(-90)">Histidine metabolism</text>
<line x1="636.69" y1="272.6" x2="636.69" y2="273.9" stroke="#444" stroke-width="0.4"/>
<text x="0" y="0" font-size="3.25" fill="#666" text-anchor="end" font-family="Liberation Sans" transform="translate(638.59,274.7) rotate(-90)">Inositol phosphate metabolism</text>
<line x1="640.04" y1="272.6" x2="640.04" y2="273.9" stroke="#444" stroke-width="0.4"/>
<text x="0" y="0" font-size="3.25" fill="#666" text-anchor="end" font-family="Liberation Sans" transform="translate(641.94,274.7) rotate(-90)">Isoquinoline alkaloid biosynthesis</text>
<line x1="643.38" y1="272.6" x2="643.38" y2="273.9" stroke="#444" stroke-width="0.4"/>
<text x="0" y="0" font-size="3.25" fill="#666" text-anchor="end" font-family="Liberation Sans" transform="translate(645.28,274.7) rotate(-90)">Linoleic acid metabolism</text>
<line x1="646.73" y1="272.6" x2="646.73" y2="273.9" stroke="#444" stroke-width="0.4"/>
<text x="0" y="0" font-size="3.25" fill="#666" text-anchor="end" font-family="Liberation Sans" transform="translate(648.63,274.7) rotate(-90)">Lysine degradation</text>
<line x1="650.07" y1="272.6" x2="650.07" y2="273.9" stroke="#444" stroke-width="0.4"/>
<text x="0" y="0" font-size="3.25" fill="#666" text-anchor="end" font-family="Liberation Sans" transform="translate(651.97,274.7) rotate(-90)">Monobactam biosynthesis</text>
<line x1="653.42" y1="272.6" x2="653.42" y2="273.9" stroke="#444" stroke-width="0.4"/>
<text x="0" y="0" font-size="3.25" fill="#666" text-anchor="end" font-family="Liberation Sans" transform="translate(655.32,274.7) rotate(-90)">Nicotinate and nicotinamide metabolism</text>
<line x1="656.76" y1="272.6" x2="656.76" y2="273.9" stroke="#444" stroke-width="0.4"/>
<text x="0" y="0" font-size="3.25" fill="#666" text-anchor="end" font-family="Liberation Sans" transform="translate(658.66,274.7) rotate(-90)">Nitrogen metabolism</text>
<line x1="660.11" y1="272.6" x2="660.11" y2="273.9" stroke="#444" stroke-width="0.4"/>
<text x="0" y="0" font-size="3.25" fill="#666" text-anchor="end" font-family="Liberation Sans" transform="translate(662.01,274.7) rotate(-90)">Oxidative phosphorylation</text>
<line x1="663.46" y1="272.6" x2="663.46" y2="273.9" stroke="#444" stroke-width="0.4"/>
<text x="0" y="0" font-size="3.25" fill="#666" text-anchor="end" font-family="Liberation Sans" transform="translate(665.36,274.7) rotate(-90)">Pantothenate and CoA biosynthesis</text>
<line x1="666.8" y1="272.6" x2="666.8" y2="273.9" stroke="#444" stroke-width="0.4"/>
<text x="0" y="0" font-size="3.25" fill="#666" text-anchor="end" font-family="Liberation Sans" transform="translate(668.7,274.7) rotate(-90)">Pentose and glucuronate interconversions</text>
<line x1="670.15" y1="272.6" x2="670.15" y2="273.9" stroke="#444" stroke-width="0.4"/>
<text x="0" y="0" font-size="3.25" fill="#666" text-anchor="end" font-family="Liberation Sans" transform="translate(672.05,274.7) rotate(-90)">Pentose phosphate pathway</text>
<line x1="673.49" y1="272.6" x2="673.49" y2="273.9" stroke="#444" stroke-width="0.4"/>
<text x="0" y="0" font-size="3.25" fill="#666" text-anchor="end" font-family="Liberation Sans" transform="translate(675.39,274.7) rotate(-90)">Phenylalanine metabolism</text>
<line x1="676.84" y1="272.6" x2="676.84" y2="273.9" stroke="#444" stroke-width="0.4"/>
<text x="0" y="0" font-size="3.25" fill="#666" text-anchor="end" font-family="Liberation Sans" transform="translate(678.74,274.7) rotate(-90)">Phenylalanine, tyrosine and tryptophan biosynthesis</text>
<line x1="680.19" y1="272.6" x2="680.19" y2="273.9" stroke="#444" stroke-width="0.4"/>
<text x="0" y="0" font-size="3.25" fill="#666" text-anchor="end" font-family="Liberation Sans" transform="translate(682.09,274.7) rotate(-90)">Phenylpropanoid biosynthesis</text>
<line x1="683.53" y1="272.6" x2="683.53" y2="273.9" stroke="#444" stroke-width="0.4"/>
<text x="0" y="0" font-size="3.25" fill="#666" text-anchor="end" font-family="Liberation Sans" transform="translate(685.43,274.7) rotate(-90)">Photosynthesis</text>
<line x1="686.88" y1="272.6" x2="686.88" y2="273.9" stroke="#444" stroke-width="0.4"/>
<text x="0" y="0" font-size="3.25" fill="#666" text-anchor="end" font-family="Liberation Sans" transform="translate(688.78,274.7) rotate(-90)">Plant hormone signal transduction</text>
<line x1="690.22" y1="272.6" x2="690.22" y2="273.9" stroke="#444" stroke-width="0.4"/>
<text x="0" y="0" font-size="3.25" fill="#666" text-anchor="end" font-family="Liberation Sans" transform="translate(692.12,274.7) rotate(-90)">Porphyrin and chlorophyll metabolism</text>
<line x1="693.57" y1="272.6" x2="693.57" y2="273.9" stroke="#444" stroke-width="0.4"/>
<text x="0" y="0" font-size="3.25" fill="#666" text-anchor="end" font-family="Liberation Sans" transform="translate(695.47,274.7) rotate(-90)">Propanoate metabolism</text>
<line x1="696.91" y1="272.6" x2="696.91" y2="273.9" stroke="#444" stroke-width="0.4"/>
<text x="0" y="0" font-size="3.25" fill="#666" text-anchor="end" font-family="Liberation Sans" transform="translate(698.81,274.7) rotate(-90)">Purine metabolism</text>
<line x1="700.26" y1="272.6" x2="700.26" y2="273.9" stroke="#444" stroke-width="0.4"/>
<text x="0" y="0" font-size="3.25" fill="#666" text-anchor="end" font-family="Liberation Sans" transform="translate(702.16,274.7) rotate(-90)">Pyrimidine metabolism</text>
<line x1="703.61" y1="272.6" x2="703.61" y2="273.9" stroke="#444" stroke-width="0.4"/>
<text x="0" y="0" font-size="3.25" fill="#666" text-anchor="end" font-family="Liberation Sans" transform="translate(705.51,274.7) rotate(-90)">Pyruvate metabolism</text>
<line x1="706.95" y1="272.6" x2="706.95" y2="273.9" stroke="#444" stroke-width="0.4"/>
<text x="0" y="0" font-size="3.25" fill="#666" text-anchor="end" font-family="Liberation Sans" transform="translate(708.85,274.7) rotate(-90)">Riboflavin metabolism</text>
<line x1="710.3" y1="272.6" x2="710.3" y2="273.9" stroke="#444" stroke-width="0.4"/>
<text x="0" y="0" font-size="3.25" fill="#666" text-anchor="end" font-family="Liberation Sans" transform="translate(712.2,274.7) rotate(-90)">Sulfur relay system</text>
<line x1="713.64" y1="272.6" x2="713.64" y2="273.9" stroke="#444" stroke-width="0.4"/>
<text x="0" y="0" font-size="3.25" fill="#666" text-anchor="end" font-family="Liberation Sans" transform="translate(715.54,274.7) rotate(-90)">Starch and sucrose metabolism</text>
<line x1="716.99" y1="272.6" x2="716.99" y2="273.9" stroke="#444" stroke-width="0.4"/>
<text x="0" y="0" font-size="3.25" fill="#666" text-anchor="end" font-family="Liberation Sans" transform="translate(718.89,274.7) rotate(-90)">Terpenoid backbone biosynthesis</text>
<line x1="720.33" y1="272.6" x2="720.33" y2="273.9" stroke="#444" stroke-width="0.4"/>
<text x="0" y="0" font-size="3.25" fill="#666" text-anchor="end" font-family="Liberation Sans" transform="translate(722.23,274.7) rotate(-90)">Sulfur metabolism</text>
<line x1="723.68" y1="272.6" x2="723.68" y2="273.9" stroke="#444" stroke-width="0.4"/>
<text x="0" y="0" font-size="3.25" fill="#666" text-anchor="end" font-family="Liberation Sans" transform="translate(725.58,274.7) rotate(-90)">Tropane, piperidine and pyridine alkaloid biosynthesis</text>
<line x1="727.03" y1="272.6" x2="727.03" y2="273.9" stroke="#444" stroke-width="0.4"/>
<text x="0" y="0" font-size="3.25" fill="#666" text-anchor="end" font-family="Liberation Sans" transform="translate(728.93,274.7) rotate(-90)">Thiamine metabolism</text>
<line x1="730.37" y1="272.6" x2="730.37" y2="273.9" stroke="#444" stroke-width="0.4"/>
<text x="0" y="0" font-size="3.25" fill="#666" text-anchor="end" font-family="Liberation Sans" transform="translate(732.27,274.7) rotate(-90)">Tyrosine metabolism</text>
<line x1="733.72" y1="272.6" x2="733.72" y2="273.9" stroke="#444" stroke-width="0.4"/>
<text x="0" y="0" font-size="3.25" fill="#666" text-anchor="end" font-family="Liberation Sans" transform="translate(735.62,274.7) rotate(-90)">Ubiquinone and other terpenoid-quinone biosynthesis</text>
<line x1="737.06" y1="272.6" x2="737.06" y2="273.9" stroke="#444" stroke-width="0.4"/>
<text x="0" y="0" font-size="3.25" fill="#666" text-anchor="end" font-family="Liberation Sans" transform="translate(738.96,274.7) rotate(-90)">Valine, leucine and isoleucine degradation</text>
<line x1="740.41" y1="272.6" x2="740.41" y2="273.9" stroke="#444" stroke-width="0.4"/>
<text x="0" y="0" font-size="3.25" fill="#666" text-anchor="end" font-family="Liberation Sans" transform="translate(742.31,274.7) rotate(-90)">Valine, leucine and isoleucine biosynthesis</text>
<line x1="743.76" y1="272.6" x2="743.76" y2="273.9" stroke="#444" stroke-width="0.4"/>
<text x="0" y="0" font-size="3.25" fill="#666" text-anchor="end" font-family="Liberation Sans" transform="translate(745.66,274.7) rotate(-90)">Vitamin B6 metabolism</text>
<line x1="747.1" y1="272.6" x2="747.1" y2="273.9" stroke="#444" stroke-width="0.4"/>
<text x="0" y="0" font-size="3.25" fill="#666" text-anchor="end" font-family="Liberation Sans" transform="translate(749,274.7) rotate(-90)">Zeatin biosynthesis</text>
<line x1="750.45" y1="272.6" x2="750.45" y2="273.9" stroke="#444" stroke-width="0.4"/>
<text x="0" y="0" font-size="3.25" fill="#666" text-anchor="end" font-family="Liberation Sans" transform="translate(752.35,274.7) rotate(-90)">alpha-Linolenic acid metabolism</text>
<line x1="753.79" y1="272.6" x2="753.79" y2="273.9" stroke="#444" stroke-width="0.4"/>
<text x="0" y="0" font-size="3.25" fill="#666" text-anchor="end" font-family="Liberation Sans" transform="translate(755.69,274.7) rotate(-90)">beta-Alanine metabolism</text>
<text x="0" y="0" font-size="4.3" fill="#000" text-anchor="middle" font-family="Liberation Sans" transform="translate(533.5,237.2) rotate(-90) scale(1,1.2)">-log10(Pvalue)</text>
<text x="761" y="230.9" font-size="3.4" fill="#111" text-anchor="start" font-family="Liberation Sans">type</text>
<rect x="761" y="233.5" width="5.3" height="4.5" fill="#f8766d"/>
<rect x="761" y="238.9" width="5.3" height="5.3" fill="#00bfc4"/>
<text x="767.4" y="237.1" font-size="3.4" fill="#333" text-anchor="start" font-family="Liberation Sans">gene</text>
<text x="767.4" y="242.7" font-size="3.4" fill="#333" text-anchor="start" font-family="Liberation Sans">meta</text>
<line x1="106.3" y1="481.8" x2="109.4" y2="415" stroke="#6a6a6a" stroke-width="1.05"/>
<line x1="106.3" y1="481.8" x2="145.4" y2="427" stroke="#6a6a6a" stroke-width="1.05"/>
<line x1="106.3" y1="481.8" x2="168.5" y2="457.1" stroke="#6a6a6a" stroke-width="1.05"/>
<line x1="106.3" y1="481.8" x2="172.3" y2="495.2" stroke="#6a6a6a" stroke-width="1.05"/>
<line x1="106.3" y1="481.8" x2="154.1" y2="529" stroke="#6a6a6a" stroke-width="1.05"/>
<line x1="106.3" y1="481.8" x2="120.2" y2="547.5" stroke="#6a6a6a" stroke-width="1.05"/>
<line x1="106.3" y1="481.8" x2="78.3" y2="541.8" stroke="#6a6a6a" stroke-width="1.05"/>
<line x1="106.3" y1="481.8" x2="52" y2="521.7" stroke="#6a6a6a" stroke-width="1.05"/>
<line x1="106.3" y1="481.8" x2="40" y2="485.9" stroke="#6a6a6a" stroke-width="1.05"/>
<line x1="106.3" y1="481.8" x2="47.5" y2="449.4" stroke="#6a6a6a" stroke-width="1.05"/>
<line x1="106.3" y1="481.8" x2="72.8" y2="423.6" stroke="#6a6a6a" stroke-width="1.05"/>
<circle cx="109.4" cy="415" r="8.9" fill="#2a8cc6"/>
<circle cx="145.4" cy="427" r="8.9" fill="#2a8cc6"/>
<circle cx="168.5" cy="457.1" r="8.9" fill="#2a8cc6"/>
<circle cx="172.3" cy="495.2" r="8.9" fill="#2a8cc6"/>
<circle cx="154.1" cy="529" r="8.9" fill="#2a8cc6"/>
<circle cx="120.2" cy="547.5" r="8.9" fill="#2a8cc6"/>
<circle cx="78.3" cy="541.8" r="8.9" fill="#2a8cc6"/>
<circle cx="52" cy="521.7" r="8.9" fill="#de5cb3"/>
<circle cx="40" cy="485.9" r="8.9" fill="#de5cb3"/>
<circle cx="47.5" cy="449.4" r="8.9" fill="#de5cb3"/>
<circle cx="72.8" cy="423.6" r="8.9" fill="#de5cb3"/>
<rect x="97.1" y="472.9" width="18.4" height="17.8" rx="1.8" fill="#de5cb3"/>
<text x="0" y="0" font-size="6.2" fill="#111" text-anchor="middle" font-family="Liberation Sans" transform="translate(109.4,417.68) scale(1,1.2)">GH_D09G0598</text>
<text x="0" y="0" font-size="6.2" fill="#111" text-anchor="middle" font-family="Liberation Sans" transform="translate(145.4,429.68) scale(1,1.2)">GH_A07G0244</text>
<text x="0" y="0" font-size="6.2" fill="#111" text-anchor="middle" font-family="Liberation Sans" transform="translate(168.5,459.78) scale(1,1.2)">GH_A05G0997</text>
<text x="0" y="0" font-size="6.2" fill="#111" text-anchor="middle" font-family="Liberation Sans" transform="translate(172.3,497.88) scale(1,1.2)">GH_A12G0632</text>
<text x="0" y="0" font-size="6.2" fill="#111" text-anchor="middle" font-family="Liberation Sans" transform="translate(154.1,531.68) scale(1,1.2)">GH_A01G0845</text>
<text x="0" y="0" font-size="6.2" fill="#111" text-anchor="middle" font-family="Liberation Sans" transform="translate(120.2,550.18) scale(1,1.2)">GH_A07G2483</text>
<text x="0" y="0" font-size="6.2" fill="#111" text-anchor="middle" font-family="Liberation Sans" transform="translate(78.3,544.48) scale(1,1.2)">GH_A10G0348</text>
<text x="0" y="0" font-size="6.2" fill="#111" text-anchor="middle" font-family="Liberation Sans" transform="translate(52,524.38) scale(1,1.2)">GH_D11G1975</text>
<text x="0" y="0" font-size="6.2" fill="#111" text-anchor="middle" font-family="Liberation Sans" transform="translate(40,488.58) scale(1,1.2)">GH_A05G4342</text>
<text x="0" y="0" font-size="6.2" fill="#111" text-anchor="middle" font-family="Liberation Sans" transform="translate(47.5,452.08) scale(1,1.2)">GH_A09G2315</text>
<text x="0" y="0" font-size="6.2" fill="#111" text-anchor="middle" font-family="Liberation Sans" transform="translate(72.8,426.28) scale(1,1.2)">GH_A13G2238</text>
<text x="0" y="0" font-size="6.2" fill="#111" text-anchor="middle" font-family="Liberation Sans" transform="translate(106.3,484.48) scale(1,1.2)">Abscisic acid</text>
<line x1="300.5" y1="485.3" x2="310.1" y2="413" stroke="#6a6a6a" stroke-width="1.05"/>
<line x1="300.5" y1="485.3" x2="270" y2="418.4" stroke="#6a6a6a" stroke-width="1.05"/>
<line x1="300.5" y1="485.3" x2="340.8" y2="420.3" stroke="#6a6a6a" stroke-width="1.05"/>
<line x1="300.5" y1="485.3" x2="248.8" y2="434.6" stroke="#6a6a6a" stroke-width="1.05"/>
<line x1="300.5" y1="485.3" x2="347.1" y2="451" stroke="#6a6a6a" stroke-width="1.05"/>
<line x1="300.5" y1="485.3" x2="250.1" y2="465.9" stroke="#6a6a6a" stroke-width="1.05"/>
<line x1="300.5" y1="485.3" x2="370.9" y2="470.5" stroke="#6a6a6a" stroke-width="1.05"/>
<line x1="300.5" y1="485.3" x2="222.4" y2="483.4" stroke="#6a6a6a" stroke-width="1.05"/>
<line x1="300.5" y1="485.3" x2="372.7" y2="506.8" stroke="#6a6a6a" stroke-width="1.05"/>
<line x1="300.5" y1="485.3" x2="247.6" y2="508.1" stroke="#6a6a6a" stroke-width="1.05"/>
<line x1="300.5" y1="485.3" x2="342.7" y2="518" stroke="#6a6a6a" stroke-width="1.05"/>
<line x1="300.5" y1="485.3" x2="280" y2="533.7" stroke="#6a6a6a" stroke-width="1.05"/>
<line x1="300.5" y1="485.3" x2="245.5" y2="539.8" stroke="#6a6a6a" stroke-width="1.05"/>
<line x1="300.5" y1="485.3" x2="342.7" y2="548.9" stroke="#6a6a6a" stroke-width="1.05"/>
<line x1="300.5" y1="485.3" x2="306.8" y2="554.6" stroke="#6a6a6a" stroke-width="1.05"/>
<circle cx="310.1" cy="413" r="8.6" fill="#de5cb3"/>
<circle cx="270" cy="418.4" r="8.6" fill="#2a8cc6"/>
<circle cx="340.8" cy="420.3" r="8.6" fill="#2a8cc6"/>
<circle cx="248.8" cy="434.6" r="8.6" fill="#2a8cc6"/>
<circle cx="347.1" cy="451" r="8.6" fill="#2a8cc6"/>
<circle cx="250.1" cy="465.9" r="8.6" fill="#de5cb3"/>
<circle cx="370.9" cy="470.5" r="8.6" fill="#2a8cc6"/>
<circle cx="222.4" cy="483.4" r="8.6" fill="#2a8cc6"/>
<circle cx="372.7" cy="506.8" r="8.6" fill="#2a8cc6"/>
<circle cx="247.6" cy="508.1" r="8.6" fill="#2a8cc6"/>
<circle cx="342.7" cy="518" r="8.6" fill="#2a8cc6"/>
<circle cx="280" cy="533.7" r="8.6" fill="#2a8cc6"/>
<circle cx="245.5" cy="539.8" r="8.6" fill="#2a8cc6"/>
<circle cx="342.7" cy="548.9" r="8.6" fill="#2a8cc6"/>
<circle cx="306.8" cy="554.6" r="8.6" fill="#de5cb3"/>
<rect x="291.75" y="476.6" width="17.5" height="17.4" rx="1.8" fill="#de5cb3"/>
<text x="0" y="0" font-size="6" fill="#111" text-anchor="middle" font-family="Liberation Sans" transform="translate(310.1,415.59) scale(1,1.2)">GH_D02G1362</text>
<text x="0" y="0" font-size="6" fill="#111" text-anchor="middle" font-family="Liberation Sans" transform="translate(270,420.99) scale(1,1.2)">GH_D09G0870</text>
<text x="0" y="0" font-size="6" fill="#111" text-anchor="middle" font-family="Liberation Sans" transform="translate(340.8,422.89) scale(1,1.2)">GH_A10G0230</text>
<text x="0" y="0" font-size="6" fill="#111" text-anchor="middle" font-family="Liberation Sans" transform="translate(248.8,437.19) scale(1,1.2)">GH_D02G2124</text>
<text x="0" y="0" font-size="6" fill="#111" text-anchor="middle" font-family="Liberation Sans" transform="translate(347.1,453.59) scale(1,1.2)">GH_A11G0668</text>
<text x="0" y="0" font-size="6" fill="#111" text-anchor="middle" font-family="Liberation Sans" transform="translate(250.1,468.49) scale(1,1.2)">GH_D03G1186</text>
<text x="0" y="0" font-size="6" fill="#111" text-anchor="middle" font-family="Liberation Sans" transform="translate(370.9,473.09) scale(1,1.2)">GH_A01G0238</text>
<text x="0" y="0" font-size="6" fill="#111" text-anchor="middle" font-family="Liberation Sans" transform="translate(222.4,485.99) scale(1,1.2)">GH_A09G0839</text>
<text x="0" y="0" font-size="6" fill="#111" text-anchor="middle" font-family="Liberation Sans" transform="translate(372.7,509.39) scale(1,1.2)">GH_A11G1550</text>
<text x="0" y="0" font-size="6" fill="#111" text-anchor="middle" font-family="Liberation Sans" transform="translate(247.6,510.69) scale(1,1.2)">GH_D02G0568</text>
<text x="0" y="0" font-size="6" fill="#111" text-anchor="middle" font-family="Liberation Sans" transform="translate(342.7,520.59) scale(1,1.2)">GH_D05G1225</text>
<text x="0" y="0" font-size="6" fill="#111" text-anchor="middle" font-family="Liberation Sans" transform="translate(280,536.29) scale(1,1.2)">GH_A12G2574</text>
<text x="0" y="0" font-size="6" fill="#111" text-anchor="middle" font-family="Liberation Sans" transform="translate(245.5,542.39) scale(1,1.2)">GH_A02G0527</text>
<text x="0" y="0" font-size="6" fill="#111" text-anchor="middle" font-family="Liberation Sans" transform="translate(342.7,551.49) scale(1,1.2)">GH_A01G1085</text>
<text x="0" y="0" font-size="6" fill="#111" text-anchor="middle" font-family="Liberation Sans" transform="translate(306.8,557.19) scale(1,1.2)">GH_A05G0155</text>
<text x="0" y="0" font-size="5.8" fill="#111" text-anchor="middle" font-family="Liberation Sans" transform="translate(300.5,487.81) scale(1,1.2)">IP7G</text>
<line x1="495" y1="487.6" x2="492.1" y2="414.4" stroke="#6a6a6a" stroke-width="1.05"/>
<line x1="495" y1="487.6" x2="525" y2="419.1" stroke="#6a6a6a" stroke-width="1.05"/>
<line x1="495" y1="487.6" x2="456" y2="421.2" stroke="#6a6a6a" stroke-width="1.05"/>
<line x1="495" y1="487.6" x2="478.4" y2="442.8" stroke="#6a6a6a" stroke-width="1.05"/>
<line x1="495" y1="487.6" x2="522.9" y2="446.3" stroke="#6a6a6a" stroke-width="1.05"/>
<line x1="495" y1="487.6" x2="556.2" y2="441.3" stroke="#6a6a6a" stroke-width="1.05"/>
<line x1="495" y1="487.6" x2="438.1" y2="448.2" stroke="#6a6a6a" stroke-width="1.05"/>
<line x1="495" y1="487.6" x2="551.7" y2="471.1" stroke="#6a6a6a" stroke-width="1.05"/>
<line x1="495" y1="487.6" x2="420.3" y2="476.4" stroke="#6a6a6a" stroke-width="1.05"/>
<line x1="495" y1="487.6" x2="449.2" y2="486.8" stroke="#6a6a6a" stroke-width="1.05"/>
<line x1="495" y1="487.6" x2="568" y2="494.4" stroke="#6a6a6a" stroke-width="1.05"/>
<line x1="495" y1="487.6" x2="538.6" y2="505.3" stroke="#6a6a6a" stroke-width="1.05"/>
<line x1="495" y1="487.6" x2="428.7" y2="509.3" stroke="#6a6a6a" stroke-width="1.05"/>
<line x1="495" y1="487.6" x2="466.4" y2="524.1" stroke="#6a6a6a" stroke-width="1.05"/>
<line x1="495" y1="487.6" x2="558.2" y2="528.3" stroke="#6a6a6a" stroke-width="1.05"/>
<line x1="495" y1="487.6" x2="509" y2="532.1" stroke="#6a6a6a" stroke-width="1.05"/>
<line x1="495" y1="487.6" x2="440.8" y2="540" stroke="#6a6a6a" stroke-width="1.05"/>
<line x1="495" y1="487.6" x2="534.5" y2="550.1" stroke="#6a6a6a" stroke-width="1.05"/>
<line x1="495" y1="487.6" x2="471.7" y2="554.6" stroke="#6a6a6a" stroke-width="1.05"/>
<line x1="495" y1="487.6" x2="501.3" y2="562.1" stroke="#6a6a6a" stroke-width="1.05"/>
<circle cx="492.1" cy="414.4" r="8" fill="#2a8cc6"/>
<circle cx="525" cy="419.1" r="8" fill="#de5cb3"/>
<circle cx="456" cy="421.2" r="8" fill="#2a8cc6"/>
<circle cx="478.4" cy="442.8" r="8" fill="#2a8cc6"/>
<circle cx="522.9" cy="446.3" r="8" fill="#2a8cc6"/>
<circle cx="556.2" cy="441.3" r="8" fill="#2a8cc6"/>
<circle cx="438.1" cy="448.2" r="8" fill="#2a8cc6"/>
<circle cx="551.7" cy="471.1" r="8" fill="#de5cb3"/>
<circle cx="420.3" cy="476.4" r="8" fill="#2a8cc6"/>
<circle cx="449.2" cy="486.8" r="8" fill="#2a8cc6"/>
<circle cx="568" cy="494.4" r="8" fill="#2a8cc6"/>
<circle cx="538.6" cy="505.3" r="8" fill="#de5cb3"/>
<circle cx="428.7" cy="509.3" r="8" fill="#de5cb3"/>
<circle cx="466.4" cy="524.1" r="8" fill="#2a8cc6"/>
<circle cx="558.2" cy="528.3" r="8" fill="#2a8cc6"/>
<circle cx="509" cy="532.1" r="8" fill="#2a8cc6"/>
<circle cx="440.8" cy="540" r="8" fill="#2a8cc6"/>
<circle cx="534.5" cy="550.1" r="8" fill="#2a8cc6"/>
<circle cx="471.7" cy="554.6" r="8" fill="#2a8cc6"/>
<circle cx="501.3" cy="562.1" r="8" fill="#de5cb3"/>
<rect x="486.6" y="479.2" width="16.8" height="16.8" rx="1.8" fill="#de5cb3"/>
<text x="0" y="0" font-size="5.5" fill="#111" text-anchor="middle" font-family="Liberation Sans" transform="translate(492.1,416.78) scale(1,1.2)">GH_D11G0094</text>
<text x="0" y="0" font-size="5.5" fill="#111" text-anchor="middle" font-family="Liberation Sans" transform="translate(525,421.48) scale(1,1.2)">GH_A12G2597</text>
<text x="0" y="0" font-size="5.5" fill="#111" text-anchor="middle" font-family="Liberation Sans" transform="translate(456,423.58) scale(1,1.2)">GH_D12G2075</text>
<text x="0" y="0" font-size="5.5" fill="#111" text-anchor="middle" font-family="Liberation Sans" transform="translate(478.4,445.18) scale(1,1.2)">GH_D11G1930</text>
<text x="0" y="0" font-size="5.5" fill="#111" text-anchor="middle" font-family="Liberation Sans" transform="translate(522.9,448.68) scale(1,1.2)">GH_D12G1003</text>
<text x="0" y="0" font-size="5.5" fill="#111" text-anchor="middle" font-family="Liberation Sans" transform="translate(556.2,443.68) scale(1,1.2)">GH_D09G1789</text>
<text x="0" y="0" font-size="5.5" fill="#111" text-anchor="middle" font-family="Liberation Sans" transform="translate(438.1,450.58) scale(1,1.2)">GH_A10G2281</text>
<text x="0" y="0" font-size="5.5" fill="#111" text-anchor="middle" font-family="Liberation Sans" transform="translate(551.7,473.48) scale(1,1.2)">GH_A10G1158</text>
<text x="0" y="0" font-size="5.5" fill="#111" text-anchor="middle" font-family="Liberation Sans" transform="translate(420.3,478.78) scale(1,1.2)">GH_A01G0025</text>
<text x="0" y="0" font-size="5.5" fill="#111" text-anchor="middle" font-family="Liberation Sans" transform="translate(449.2,489.18) scale(1,1.2)">GH_D03G0987</text>
<text x="0" y="0" font-size="5.5" fill="#111" text-anchor="middle" font-family="Liberation Sans" transform="translate(568,496.78) scale(1,1.2)">GH_D12G0648</text>
<text x="0" y="0" font-size="5.5" fill="#111" text-anchor="middle" font-family="Liberation Sans" transform="translate(538.6,507.68) scale(1,1.2)">GH_D01G0218</text>
<text x="0" y="0" font-size="5.5" fill="#111" text-anchor="middle" font-family="Liberation Sans" transform="translate(428.7,511.68) scale(1,1.2)">GH_D08G2081</text>
<text x="0" y="0" font-size="5.5" fill="#111" text-anchor="middle" font-family="Liberation Sans" transform="translate(466.4,526.48) scale(1,1.2)">GH_A07G0509</text>
<text x="0" y="0" font-size="5.5" fill="#111" text-anchor="middle" font-family="Liberation Sans" transform="translate(558.2,530.68) scale(1,1.2)">GH_D05G0580</text>
<text x="0" y="0" font-size="5.5" fill="#111" text-anchor="middle" font-family="Liberation Sans" transform="translate(509,534.48) scale(1,1.2)">GH_A09G1498</text>
<text x="0" y="0" font-size="5.5" fill="#111" text-anchor="middle" font-family="Liberation Sans" transform="translate(440.8,542.38) scale(1,1.2)">GH_D09G2640</text>
<text x="0" y="0" font-size="5.5" fill="#111" text-anchor="middle" font-family="Liberation Sans" transform="translate(534.5,552.48) scale(1,1.2)">GH_D06G0186</text>
<text x="0" y="0" font-size="5.5" fill="#111" text-anchor="middle" font-family="Liberation Sans" transform="translate(471.7,556.98) scale(1,1.2)">GH_A07G2147</text>
<text x="0" y="0" font-size="5.5" fill="#111" text-anchor="middle" font-family="Liberation Sans" transform="translate(501.3,564.48) scale(1,1.2)">GH_A10G1748</text>
<text x="0" y="0" font-size="5.4" fill="#111" text-anchor="middle" font-family="Liberation Sans" transform="translate(495,489.93) scale(1,1.2)">L-Cysteine</text>
<line x1="683.7" y1="485.2" x2="664.1" y2="417.2" stroke="#6a6a6a" stroke-width="1.05"/>
<line x1="683.7" y1="485.2" x2="710" y2="415.5" stroke="#6a6a6a" stroke-width="1.05"/>
<line x1="683.7" y1="485.2" x2="633.2" y2="435" stroke="#6a6a6a" stroke-width="1.05"/>
<line x1="683.7" y1="485.2" x2="732.8" y2="431.9" stroke="#6a6a6a" stroke-width="1.05"/>
<line x1="683.7" y1="485.2" x2="754.9" y2="457.4" stroke="#6a6a6a" stroke-width="1.05"/>
<line x1="683.7" y1="485.2" x2="615" y2="467.6" stroke="#6a6a6a" stroke-width="1.05"/>
<line x1="683.7" y1="485.2" x2="746.7" y2="489" stroke="#6a6a6a" stroke-width="1.05"/>
<line x1="683.7" y1="485.2" x2="614.2" y2="499.7" stroke="#6a6a6a" stroke-width="1.05"/>
<line x1="683.7" y1="485.2" x2="746.2" y2="520.3" stroke="#6a6a6a" stroke-width="1.05"/>
<line x1="683.7" y1="485.2" x2="627.2" y2="530.1" stroke="#6a6a6a" stroke-width="1.05"/>
<line x1="683.7" y1="485.2" x2="721.5" y2="544.3" stroke="#6a6a6a" stroke-width="1.05"/>
<line x1="683.7" y1="485.2" x2="652.7" y2="549.6" stroke="#6a6a6a" stroke-width="1.05"/>
<line x1="683.7" y1="485.2" x2="688.9" y2="555.2" stroke="#6a6a6a" stroke-width="1.05"/>
<circle cx="664.1" cy="417.2" r="9.1" fill="#2a8cc6"/>
<circle cx="710" cy="415.5" r="9.1" fill="#2a8cc6"/>
<circle cx="633.2" cy="435" r="9.1" fill="#de5cb3"/>
<circle cx="732.8" cy="431.9" r="9.1" fill="#2a8cc6"/>
<circle cx="754.9" cy="457.4" r="9.1" fill="#de5cb3"/>
<circle cx="615" cy="467.6" r="9.1" fill="#de5cb3"/>
<circle cx="746.7" cy="489" r="9.1" fill="#2a8cc6"/>
<circle cx="614.2" cy="499.7" r="9.1" fill="#2a8cc6"/>
<circle cx="746.2" cy="520.3" r="9.1" fill="#2a8cc6"/>
<circle cx="627.2" cy="530.1" r="9.1" fill="#2a8cc6"/>
<circle cx="721.5" cy="544.3" r="9.1" fill="#2a8cc6"/>
<circle cx="652.7" cy="549.6" r="9.1" fill="#de5cb3"/>
<circle cx="688.9" cy="555.2" r="9.1" fill="#2a8cc6"/>
<rect x="674.2" y="475.95" width="19" height="18.5" rx="1.8" fill="#de5cb3"/>
<text x="0" y="0" font-size="6.2" fill="#111" text-anchor="middle" font-family="Liberation Sans" transform="translate(664.1,419.88) scale(1,1.2)">GH_A02G1696</text>
<text x="0" y="0" font-size="6.2" fill="#111" text-anchor="middle" font-family="Liberation Sans" transform="translate(710,418.18) scale(1,1.2)">GH_A03G0685</text>
<text x="0" y="0" font-size="6.2" fill="#111" text-anchor="middle" font-family="Liberation Sans" transform="translate(633.2,437.68) scale(1,1.2)">GH_A04G1683</text>
<text x="0" y="0" font-size="6.2" fill="#111" text-anchor="middle" font-family="Liberation Sans" transform="translate(732.8,434.58) scale(1,1.2)">GH_D02G0588</text>
<text x="0" y="0" font-size="6.2" fill="#111" text-anchor="middle" font-family="Liberation Sans" transform="translate(754.9,460.08) scale(1,1.2)">GH_A13G1169</text>
<text x="0" y="0" font-size="6.2" fill="#111" text-anchor="middle" font-family="Liberation Sans" transform="translate(615,470.28) scale(1,1.2)">GH_D09G2342</text>
<text x="0" y="0" font-size="6.2" fill="#111" text-anchor="middle" font-family="Liberation Sans" transform="translate(746.7,491.68) scale(1,1.2)">GH_D05G1536</text>
<text x="0" y="0" font-size="6.2" fill="#111" text-anchor="middle" font-family="Liberation Sans" transform="translate(614.2,502.38) scale(1,1.2)">GH_D11G1514</text>
<text x="0" y="0" font-size="6.2" fill="#111" text-anchor="middle" font-family="Liberation Sans" transform="translate(746.2,522.98) scale(1,1.2)">GH_A09G1122</text>
<text x="0" y="0" font-size="6.2" fill="#111" text-anchor="middle" font-family="Liberation Sans" transform="translate(627.2,532.78) scale(1,1.2)">GH_D02G1137</text>
<text x="0" y="0" font-size="6.2" fill="#111" text-anchor="middle" font-family="Liberation Sans" transform="translate(721.5,546.98) scale(1,1.2)">GH_A12G2657</text>
<text x="0" y="0" font-size="6.2" fill="#111" text-anchor="middle" font-family="Liberation Sans" transform="translate(652.7,552.28) scale(1,1.2)">GH_A03G0354</text>
<text x="0" y="0" font-size="6.2" fill="#111" text-anchor="middle" font-family="Liberation Sans" transform="translate(688.9,557.88) scale(1,1.2)">GH_D04G1622</text>
<text x="0" y="0" font-size="6.05" fill="#111" text-anchor="middle" font-family="Liberation Sans" transform="translate(683.7,487.81) scale(1,1.2)">Turanose</text>
<text x="0" y="0" font-size="17" fill="#000" text-anchor="start" font-family="Liberation Serif" transform="translate(1.1,15) scale(1,1.29)">A</text>
<text x="0" y="0" font-size="18.6" fill="#000" text-anchor="start" font-family="Liberation Serif" transform="translate(262.05,15.8) scale(1,1.18)">B</text>
<text x="0" y="0" font-size="19.3" fill="#000" text-anchor="start" font-family="Liberation Serif" transform="translate(509.8,15.7) scale(1,1.14)">C</text>
<text x="0" y="0" font-size="18.6" fill="#000" text-anchor="start" font-family="Liberation Serif" transform="translate(3.85,200.9) scale(1,1.18)">D</text>
<text x="0" y="0" font-size="18.8" fill="#000" text-anchor="start" font-family="Liberation Serif" transform="translate(263.05,200.9) scale(1,1.17)">E</text>
<text x="0" y="0" font-size="17.8" fill="#000" text-anchor="start" font-family="Liberation Serif" transform="translate(518.65,200.9) scale(1,1.24)">F</text>
<text x="0" y="0" font-size="18.3" fill="#000" text-anchor="start" font-family="Liberation Serif" transform="translate(2.85,416.8) scale(1,1.2)">G</text>
</svg></body></html>
